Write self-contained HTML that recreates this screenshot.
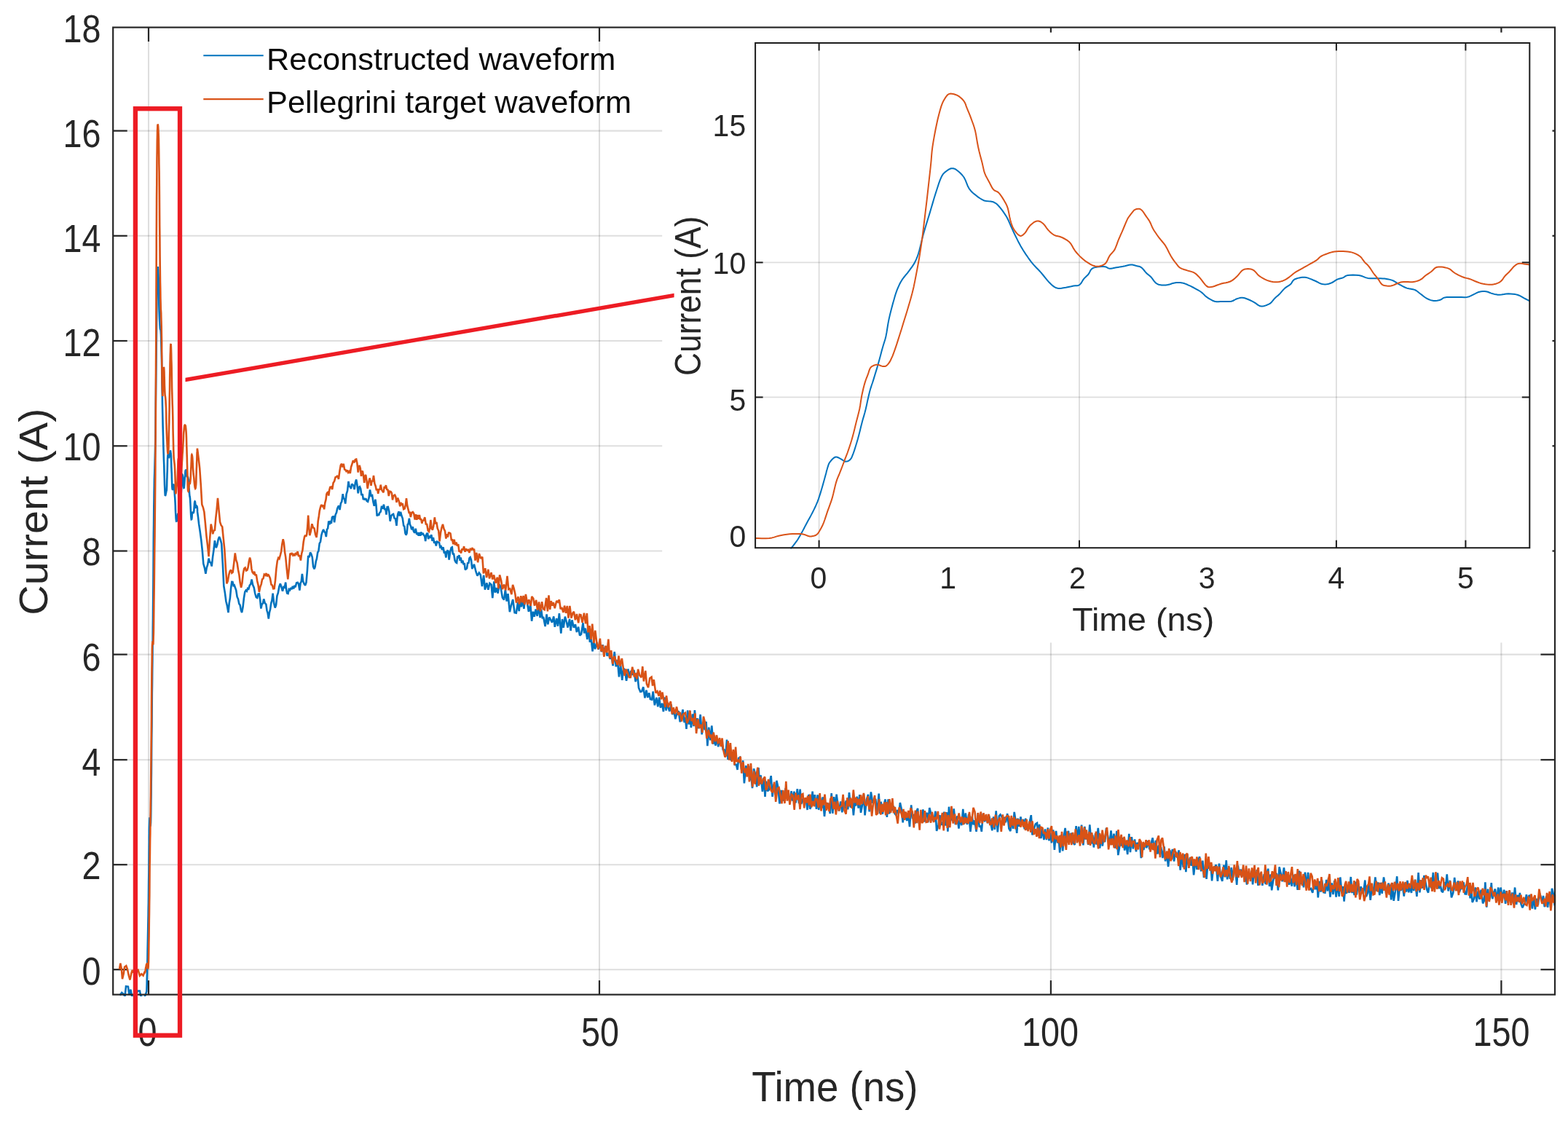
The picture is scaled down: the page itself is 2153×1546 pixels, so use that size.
<!DOCTYPE html>
<html lang="en"><head><meta charset="utf-8"><title>Current waveform</title>
<style>html,body{margin:0;padding:0;background:#fff;width:2153px;height:1546px}svg{display:block;filter:blur(0.45px)}</style></head>
<body>
<svg width="2153" height="1546" viewBox="0 0 2153 1546" role="img" aria-label="Current waveform chart">
<defs>
<clipPath id="cm"><rect x="155.2" y="37.6" width="1981.0" height="1330.5"/></clipPath>
<clipPath id="ci"><rect x="1037.1" y="59.0" width="1063.2000000000003" height="694.7"/></clipPath>
<filter id="bl" x="-2%" y="-2%" width="104%" height="104%"><feGaussianBlur stdDeviation="0.7"/></filter>
</defs>
<rect width="2153" height="1546" fill="#ffffff"/>
<g stroke="#000" stroke-opacity="0.13" stroke-width="2.1" fill="none">
<line x1="155.2" y1="1331.2" x2="2135.0" y2="1331.2"/>
<line x1="155.2" y1="1187.2" x2="2135.0" y2="1187.2"/>
<line x1="155.2" y1="1043.2" x2="2135.0" y2="1043.2"/>
<line x1="155.2" y1="898.6" x2="2135.0" y2="898.6"/>
<line x1="155.2" y1="756.5" x2="2135.0" y2="756.5"/>
<line x1="155.2" y1="612.3" x2="2135.0" y2="612.3"/>
<line x1="155.2" y1="468.0" x2="2135.0" y2="468.0"/>
<line x1="155.2" y1="323.8" x2="2135.0" y2="323.8"/>
<line x1="155.2" y1="179.6" x2="2135.0" y2="179.6"/>
<line x1="204.0" y1="37.6" x2="204.0" y2="1365.6"/>
<line x1="823.0" y1="37.6" x2="823.0" y2="1365.6"/>
<line x1="1442.9" y1="37.6" x2="1442.9" y2="1365.6"/>
<line x1="2061.4" y1="37.6" x2="2061.4" y2="1365.6"/>
</g>
<g stroke="#262626" stroke-width="2.2" fill="none">
<line x1="155.2" y1="1331.2" x2="174.7" y2="1331.2"/>
<line x1="2135.0" y1="1331.2" x2="2115.5" y2="1331.2"/>
<line x1="155.2" y1="1187.2" x2="174.7" y2="1187.2"/>
<line x1="2135.0" y1="1187.2" x2="2115.5" y2="1187.2"/>
<line x1="155.2" y1="1043.2" x2="174.7" y2="1043.2"/>
<line x1="2135.0" y1="1043.2" x2="2115.5" y2="1043.2"/>
<line x1="155.2" y1="898.6" x2="174.7" y2="898.6"/>
<line x1="2135.0" y1="898.6" x2="2115.5" y2="898.6"/>
<line x1="155.2" y1="756.5" x2="174.7" y2="756.5"/>
<line x1="2135.0" y1="756.5" x2="2115.5" y2="756.5"/>
<line x1="155.2" y1="612.3" x2="174.7" y2="612.3"/>
<line x1="2135.0" y1="612.3" x2="2115.5" y2="612.3"/>
<line x1="155.2" y1="468.0" x2="174.7" y2="468.0"/>
<line x1="2135.0" y1="468.0" x2="2115.5" y2="468.0"/>
<line x1="155.2" y1="323.8" x2="174.7" y2="323.8"/>
<line x1="2135.0" y1="323.8" x2="2115.5" y2="323.8"/>
<line x1="155.2" y1="179.6" x2="174.7" y2="179.6"/>
<line x1="2135.0" y1="179.6" x2="2115.5" y2="179.6"/>
<line x1="204.0" y1="1365.6" x2="204.0" y2="1346.1"/>
<line x1="204.0" y1="37.6" x2="204.0" y2="57.1"/>
<line x1="823.0" y1="1365.6" x2="823.0" y2="1346.1"/>
<line x1="823.0" y1="37.6" x2="823.0" y2="57.1"/>
<line x1="1442.9" y1="1365.6" x2="1442.9" y2="1346.1"/>
<line x1="1442.9" y1="37.6" x2="1442.9" y2="57.1"/>
<line x1="2061.4" y1="1365.6" x2="2061.4" y2="1346.1"/>
<line x1="2061.4" y1="37.6" x2="2061.4" y2="57.1"/>
</g>
<g clip-path="url(#cm)"><g filter="url(#bl)" fill="none" stroke-width="2.6" stroke-linejoin="miter" stroke-miterlimit="2" stroke-linecap="butt">
<path stroke="#0072BD" d="M164.6 1366.5L167.2 1362.8L169.8 1365.0L171.5 1368.0L173.0 1354.3L175.9 1354.6L177.4 1366.0L179.4 1358.7L180.9 1367.0L184.0 1369.0L187.0 1364.0L189.6 1360.5L191.9 1360.5L193.1 1367.0L196.0 1370.0L199.0 1368.0L201.3 1361.3L201.5 1356.7L201.7 1350.0L201.8 1343.0L202.0 1336.7L202.1 1330.1L202.3 1322.8L202.5 1314.6L202.6 1305.7L202.8 1296.3L203.0 1286.3L203.2 1275.8L203.4 1265.8L203.6 1256.8L203.7 1248.2L203.9 1239.3L204.0 1229.6L204.1 1219.5L204.2 1208.7L204.4 1196.4L204.5 1183.4L204.6 1171.9L204.7 1163.1L204.8 1155.9L204.8 1149.6L204.9 1144.2L204.9 1139.7L205.0 1135.3L205.2 1130.2L205.4 1125.3L205.6 1122.3L205.7 1122.6L205.9 1124.8L206.1 1127.3L206.2 1129.9L206.4 1132.7L206.5 1134.2L206.7 1133.8L206.8 1132.1L207.0 1129.2L207.1 1125.5L207.2 1120.5L207.3 1113.0L207.4 1101.8L207.6 1088.2L207.7 1074.3L207.9 1060.7L208.0 1046.8L208.1 1033.4L208.2 1021.2L208.3 1009.5L208.5 996.8L208.6 982.0L208.7 966.3L208.8 952.0L209.0 940.5L209.1 930.4L209.2 919.4L209.4 906.6L209.5 892.9L209.7 878.7L209.8 863.5L210.0 847.8L210.1 833.9L210.2 823.8L210.3 815.5L210.4 805.5L210.5 792.1L210.6 777.0L210.7 762.0L210.8 747.5L210.9 733.0L211.1 719.5L211.2 707.0L211.3 695.4L211.5 684.7L211.6 675.2L211.8 666.6L211.9 658.2L212.2 650.1L212.4 642.3L212.6 634.4L212.8 626.6L213.0 618.8L213.2 610.4L213.4 601.5L213.5 592.1L213.6 581.2L213.7 568.4L213.8 554.1L214.0 538.6L214.2 521.7L214.4 503.5L214.6 485.4L214.8 467.4L215.0 449.5L215.2 432.4L215.4 415.7L215.5 399.8L215.7 387.2L215.9 379.3L216.1 374.6L216.3 371.2L216.5 368.4L216.6 366.9L216.8 366.4L216.9 366.8L217.0 368.2L217.2 371.2L217.4 376.0L217.7 382.3L217.9 389.8L218.0 399.2L218.2 409.7L218.4 419.0L218.6 426.2L218.8 432.1L219.0 437.5L219.3 442.8L219.6 447.4L219.8 450.9L220.1 452.3L220.4 452.5L220.6 453.6L220.8 455.8L221.0 459.0L221.2 464.2L221.4 472.4L221.7 482.6L222.0 493.4L222.2 504.2L222.3 515.7L222.5 528.0L222.8 541.6L223.0 556.2L223.3 570.5L223.6 584.4L224.0 598.0L224.3 610.4L224.6 621.0L224.9 630.5L225.3 639.5L225.5 648.7L225.8 657.5L226.0 665.1L226.3 671.2L226.5 676.1L226.7 679.4L226.9 680.7L227.2 680.3L227.4 679.4L227.7 678.0L228.1 676.0L228.4 674.3L228.6 673.6L228.8 673.3L228.9 671.4L229.1 666.8L229.2 660.7L229.4 655.2L229.5 651.1L229.7 647.4L229.8 643.5L229.9 638.7L230.0 633.5L230.1 629.4L230.3 626.9L230.4 625.5L230.6 624.5L230.9 623.8L231.2 623.5L231.4 623.9L231.6 625.4L231.7 627.6L231.8 628.9L232.0 628.5L232.2 627.2L232.5 626.0L232.7 625.1L232.9 624.2L233.1 623.1L233.4 621.5L233.6 619.7L233.9 618.7L234.1 619.1L234.2 620.3L234.4 621.6L234.5 622.6L234.7 623.7L234.9 626.0L235.0 630.3L235.2 635.7L235.3 640.7L235.5 644.2L235.6 647.3L235.8 650.8L235.9 655.7L236.1 661.1L236.2 665.5L236.3 668.3L236.5 670.2L236.6 671.4L236.9 672.0L237.1 672.0L237.4 671.4L237.6 669.9L237.8 667.8L238.0 666.2L238.3 665.6L238.5 665.6L238.8 666.2L239.0 667.9L239.2 670.3L239.4 672.7L239.6 675.0L239.8 677.3L239.9 680.0L240.2 683.1L240.4 686.5L240.6 690.3L240.8 694.5L240.9 699.1L241.1 703.4L241.4 707.7L241.6 711.7L241.9 714.5L242.1 715.5L242.4 715.4L242.6 715.1L242.9 715.2L243.2 715.2L243.5 714.5L243.7 712.6L243.8 710.0L244.0 707.8L244.2 706.3L244.4 705.2L244.5 705.0L244.7 705.7L244.9 707.3L245.1 709.4L245.3 712.0L245.5 715.1L245.7 718.1L245.9 721.1L246.0 723.9L246.1 726.0L246.3 727.1L246.4 727.5L246.6 726.9L246.8 725.3L247.0 722.7L247.2 719.5L247.4 715.4L247.5 710.7L247.6 706.3L247.8 702.9L247.9 699.9L248.1 696.2L248.2 691.0L248.4 685.2L248.6 680.0L248.8 676.2L249.0 673.1L249.1 669.9L249.3 665.9L249.3 661.7L249.5 658.2L249.6 655.8L249.8 654.1L250.0 652.9L250.2 652.0L250.4 651.6L250.5 651.7L250.7 652.4L250.8 653.6L251.0 655.2L251.2 657.4L251.4 660.1L251.6 662.6L251.8 664.8L251.9 666.8L252.0 668.3L252.2 669.4L252.4 670.0L252.6 669.9L252.8 669.0L252.9 667.5L253.1 665.5L253.3 662.7L253.5 659.5L253.7 656.7L253.8 655.0L254.0 653.7L254.2 652.3L254.3 650.2L254.4 648.0L254.6 646.4L254.9 645.7L255.3 645.6L255.7 646.4L256.0 648.6L256.3 651.6L256.5 653.8L256.8 654.5L257.1 654.5L257.4 654.4L257.7 654.5L257.9 654.7L258.1 655.2L258.4 656.2L258.6 657.5L258.9 659.6L259.1 662.6L259.3 666.2L259.5 669.9L259.8 673.5L260.0 677.0L260.3 680.0L260.5 681.6L260.8 682.7L261.0 684.4L261.2 687.3L261.4 690.8L261.6 694.7L261.8 698.9L262.0 703.5L262.2 707.3L262.4 710.0L262.6 712.1L262.8 713.2L263.1 713.1L263.3 712.1L263.5 710.7L263.6 708.7L263.7 706.2L263.9 704.4L264.2 703.6L264.5 703.5L264.9 703.4L265.3 703.6L265.7 703.9L266.0 703.4L266.3 701.5L266.5 698.8L266.7 696.2L266.9 693.8L267.0 691.4L267.2 689.7L267.4 688.8L267.6 688.5L267.9 688.9L268.1 690.5L268.3 692.7L268.5 694.7L268.7 696.0L268.9 697.1L269.2 697.5L269.4 696.8L269.7 695.4L270.0 694.7L270.3 695.0L270.6 695.9L270.9 697.5L271.1 702.9L272.1 710.7L273.1 719.4L274.6 729.1L276.2 740.8L277.8 755.9L279.3 774.0L280.9 779.6L282.4 787.7L283.8 779.3L285.2 775.3L286.6 766.6L288.0 771.6L289.3 772.5L290.7 777.5L292.1 764.8L293.5 754.9L294.9 742.1L295.9 748.7L296.9 752.1L298.3 748.0L299.7 740.5L301.1 737.1L302.6 740.7L304.2 746.5L305.8 773.7L307.3 804.5L308.9 814.1L310.4 825.7L311.9 831.7L313.5 841.1L314.7 828.3L315.9 821.1L317.1 807.7L318.3 798.8L319.4 798.9L320.6 804.0L321.7 803.4L322.8 806.5L324.2 810.4L325.6 819.4L327.0 822.6L328.3 829.0L329.6 830.8L330.8 837.5L332.1 841.0L333.5 833.8L334.9 821.3L336.3 812.6L337.6 810.5L338.9 811.7L340.1 807.9L341.4 808.6L342.8 803.7L344.2 802.2L345.6 795.5L347.1 803.0L348.7 806.6L350.2 814.8L351.8 820.2L353.2 820.9L354.5 815.5L355.9 815.1L357.1 822.8L358.4 835.6L359.7 829.5L360.9 828.5L362.2 822.4L363.8 828.3L365.3 829.6L366.5 838.3L367.6 841.6L368.8 849.6L370.0 840.7L371.1 836.6L372.3 828.1L373.4 824.4L374.6 814.7L376.1 827.9L377.7 834.5L379.1 830.7L380.4 818.3L381.8 814.2L383.4 805.3L384.9 801.3L386.4 805.8L388.0 811.7L389.4 805.9L390.8 806.6L392.2 799.6L393.2 810.0L394.2 814.5L395.5 815.0L396.8 809.1L398.1 810.1L399.4 807.0L400.6 809.2L401.9 804.8L403.1 808.3L404.4 804.0L405.6 806.3L407.1 800.3L408.7 799.8L410.0 801.8L411.4 810.6L412.6 800.5L413.7 798.6L414.9 788.0L416.2 798.2L417.6 801.5L419.1 803.7L420.5 799.7L421.9 783.7L423.2 763.0L424.6 765.3L426.0 758.5L427.4 760.9L428.8 765.2L430.1 777.9L431.5 781.3L432.6 778.4L433.8 770.7L434.9 767.2L436.2 758.5L437.4 756.6L438.7 746.2L440.0 743.8L441.3 735.0L442.6 730.5L444.1 727.1L445.5 730.2L446.6 731.3L447.8 737.0L449.0 726.6L450.1 725.6L451.3 715.5L452.5 720.3L453.6 715.1L454.8 718.9L456.0 710.2L457.2 709.3L458.1 709.2L459.1 717.2L460.6 706.8L462.0 703.8L463.2 698.2L464.5 695.3L465.5 694.4L466.5 700.0L467.9 691.2L469.3 688.5L470.7 678.2L471.9 684.4L473.0 685.0L474.2 691.5L475.6 678.6L477.1 673.6L478.5 660.9L479.6 667.7L480.8 668.2L482.0 671.0L483.1 664.4L484.3 665.6L485.5 666.8L486.6 672.1L487.9 662.5L489.2 658.4L490.4 665.7L491.7 677.4L492.9 669.0L494.0 668.2L495.2 671.0L496.4 680.1L497.7 678.2L498.9 686.0L500.0 684.0L501.1 686.4L502.2 684.1L503.6 687.8L505.1 688.7L506.6 683.4L508.0 672.5L509.6 680.8L511.1 680.1L512.5 689.3L513.8 694.8L515.4 685.7L516.5 693.6L517.7 708.6L518.9 705.4L520.0 707.9L521.2 704.2L522.7 702.7L524.1 694.7L525.5 698.5L527.0 692.7L528.2 700.1L529.3 698.1L530.5 706.5L531.6 696.1L532.8 696.0L534.2 701.7L535.7 715.7L537.2 708.1L538.6 706.5L540.1 705.8L541.6 711.6L543.0 712.1L544.5 721.9L545.5 710.4L546.4 705.3L547.6 702.2L548.8 708.4L550.1 702.9L551.3 707.7L552.8 711.7L554.2 721.7L555.3 722.5L556.4 732.0L557.5 734.6L558.6 732.2L559.7 720.3L560.8 718.7L561.9 711.6L562.9 720.1L563.9 722.2L565.3 727.2L566.8 723.1L567.8 729.1L568.7 730.6L569.7 731.5L570.7 725.8L572.2 733.7L573.6 732.4L574.8 735.6L575.9 731.1L577.1 735.7L578.2 730.6L579.4 733.5L580.8 732.7L582.3 735.2L583.2 736.3L584.2 743.0L585.2 734.3L586.2 732.6L587.2 732.6L588.1 740.1L589.5 735.7L591.0 738.8L592.3 734.1L593.6 742.7L594.9 738.0L596.2 745.8L597.5 743.2L598.8 749.5L600.2 743.7L601.7 744.5L603.0 744.9L604.3 751.3L605.6 750.3L607.0 755.0L608.5 751.3L609.8 758.5L611.1 758.1L612.4 765.5L613.3 757.8L614.3 756.1L615.5 756.7L616.6 768.6L618.2 757.4L619.7 751.9L620.8 751.3L621.9 761.4L623.0 759.8L624.5 769.3L625.9 772.2L627.1 772.9L628.2 763.7L629.4 764.9L630.5 762.2L631.6 769.8L632.7 765.4L634.0 773.1L635.3 769.6L636.6 775.3L637.7 773.1L638.8 782.4L639.9 781.3L641.1 780.4L642.2 772.4L643.4 773.6L644.5 766.3L645.7 765.1L647.0 768.9L648.3 781.0L650.0 777.2L651.0 774.7L653.5 785.0L655.5 790.6L657.8 786.4L659.8 789.3L662.0 805.1L664.2 789.8L665.9 809.7L668.3 800.3L670.4 809.6L672.4 800.8L674.6 802.6L676.3 821.2L678.3 798.3L679.9 813.7L681.7 807.0L683.7 814.6L685.6 802.2L687.5 806.1L689.9 820.4L692.0 823.5L693.9 809.7L695.7 825.5L697.5 815.1L699.9 840.2L701.9 831.3L704.2 823.0L706.6 841.1L708.8 841.6L711.1 826.7L712.7 839.2L714.3 822.2L715.9 833.3L717.7 820.5L719.4 835.8L721.3 820.1L723.7 826.4L725.9 839.9L728.3 829.7L730.1 852.7L732.0 839.7L733.7 846.7L735.6 836.5L737.7 845.9L739.7 832.1L741.6 848.2L743.1 836.6L744.7 848.2L746.3 847.9L748.6 860.1L750.6 843.5L752.3 857.3L754.2 847.5L756.4 851.4L758.0 854.7L760.3 846.3L761.8 860.8L764.2 849.0L766.0 859.7L767.9 842.1L770.3 869.7L772.1 850.0L773.7 861.8L775.9 846.6L777.9 854.0L779.6 861.6L782.1 849.9L783.6 866.0L785.5 851.3L787.9 861.8L790.0 857.3L791.9 868.0L794.1 860.6L796.1 872.6L798.1 870.6L800.5 855.3L802.2 869.4L803.9 862.6L806.4 877.9L808.4 862.4L809.9 881.6L811.5 875.4L813.6 894.4L815.2 880.8L817.1 891.2L819.4 881.9L821.8 891.8L823.7 883.7L826.1 895.1L827.7 885.1L829.4 895.7L831.9 887.2L833.6 900.5L835.9 896.7L837.8 904.9L839.5 899.4L841.6 914.1L843.7 894.9L845.8 915.3L847.8 905.9L850.0 929.3L852.1 912.7L854.3 933.8L856.0 917.8L857.9 919.5L860.1 934.9L862.4 918.6L864.5 930.4L866.3 920.9L867.9 926.7L870.4 919.9L872.7 936.0L875.0 923.8L877.0 944.4L879.3 949.7L881.2 949.3L883.3 943.3L885.5 958.3L887.6 947.6L889.3 957.7L891.4 951.5L892.9 960.0L895.1 960.6L896.7 949.5L898.9 968.3L901.4 957.7L903.3 970.4L905.2 957.5L906.9 971.7L909.2 965.8L910.9 977.0L912.9 957.4L914.6 975.6L916.1 964.3L917.6 971.5L919.3 976.6L921.6 967.1L923.3 981.2L925.2 975.1L927.4 987.2L929.4 979.7L931.7 976.2L933.8 991.2L935.7 984.5L937.5 974.1L939.7 992.1L941.0 984.9L942.5 1000.9L944.2 975.4L945.9 994.7L947.4 976.1L948.9 999.0L951.0 980.3L952.5 997.2L953.9 975.0L955.8 997.4L957.5 986.3L959.5 1000.3L961.7 981.0L963.7 1008.3L965.8 991.3L967.7 1002.3L969.6 990.7L971.4 1024.2L973.3 998.7L975.3 1016.4L977.3 996.3L979.4 1021.7L980.8 1009.7L982.4 1023.6L984.7 1013.6L986.2 1025.4L987.7 1016.4L989.2 1022.0L990.7 1017.0L992.7 1029.0L994.2 1029.2L996.5 1037.3L998.0 1015.7L999.6 1043.0L1001.9 1028.8L1003.7 1044.0L1005.4 1041.5L1007.4 1031.4L1009.0 1049.9L1011.0 1049.9L1012.6 1056.9L1014.2 1040.9L1015.8 1039.9L1018.1 1056.6L1020.2 1044.2L1021.9 1075.4L1024.3 1051.1L1026.2 1063.3L1028.1 1051.5L1029.7 1071.2L1031.5 1066.2L1033.0 1082.1L1035.0 1055.4L1037.1 1062.7L1039.2 1080.3L1041.5 1054.2L1043.0 1076.7L1044.6 1064.3L1046.9 1086.8L1048.9 1068.1L1050.5 1093.8L1052.0 1072.6L1053.7 1086.2L1055.7 1084.5L1057.1 1073.0L1058.7 1065.2L1060.6 1093.8L1062.6 1076.6L1064.7 1090.6L1066.4 1071.8L1068.4 1081.2L1070.4 1103.5L1072.6 1084.9L1074.2 1096.8L1076.4 1099.2L1078.6 1082.2L1080.6 1096.9L1082.5 1091.3L1084.5 1101.4L1086.6 1086.1L1088.3 1099.5L1090.4 1086.6L1092.6 1102.3L1094.8 1083.1L1097.0 1103.1L1098.6 1083.7L1100.2 1103.9L1102.3 1096.5L1104.6 1102.5L1106.4 1095.2L1108.6 1112.0L1110.5 1090.9L1112.3 1110.8L1114.1 1106.1L1115.6 1086.7L1117.4 1106.1L1118.8 1091.2L1121.0 1110.9L1122.6 1091.4L1124.2 1112.0L1126.1 1095.2L1128.1 1109.8L1129.7 1094.4L1132.0 1121.0L1133.9 1101.7L1135.4 1109.8L1137.8 1102.9L1139.7 1117.2L1141.7 1089.0L1143.3 1116.8L1145.2 1094.2L1147.1 1112.1L1148.6 1090.6L1150.3 1103.3L1152.0 1113.6L1154.3 1100.4L1156.3 1115.4L1158.2 1101.2L1159.7 1110.2L1161.8 1099.3L1164.2 1111.3L1166.0 1088.1L1168.1 1108.8L1170.1 1096.9L1171.9 1119.3L1173.6 1100.4L1175.0 1106.5L1176.7 1093.7L1178.7 1109.6L1180.3 1091.1L1182.0 1115.8L1184.3 1103.9L1186.0 1090.4L1187.6 1119.4L1189.8 1097.7L1192.1 1090.8L1193.7 1114.4L1195.9 1087.4L1198.1 1101.1L1200.3 1099.6L1202.3 1096.9L1204.5 1116.8L1206.7 1089.5L1208.2 1117.1L1209.6 1100.8L1211.9 1117.7L1213.6 1104.4L1215.7 1097.5L1217.9 1121.9L1219.6 1097.3L1221.3 1117.3L1222.9 1102.7L1225.0 1113.0L1226.9 1106.6L1228.7 1117.1L1230.8 1119.8L1232.4 1112.1L1234.4 1116.3L1235.9 1102.1L1237.6 1110.0L1239.7 1129.3L1241.4 1114.1L1243.7 1122.3L1245.3 1126.9L1247.2 1117.3L1249.0 1135.1L1251.2 1105.4L1253.0 1124.1L1254.5 1117.9L1256.5 1130.7L1258.0 1115.9L1260.1 1109.9L1261.8 1130.3L1263.6 1120.7L1265.7 1127.6L1267.4 1111.5L1269.5 1128.4L1271.0 1120.7L1272.8 1115.8L1274.3 1129.2L1276.3 1109.1L1278.3 1117.0L1280.2 1125.2L1282.5 1126.7L1284.5 1113.8L1286.1 1140.9L1288.4 1133.0L1290.4 1119.1L1292.6 1132.7L1294.5 1130.8L1296.4 1114.6L1298.4 1133.7L1300.0 1115.2L1301.4 1141.7L1303.0 1107.7L1305.0 1127.4L1306.6 1116.9L1308.1 1127.3L1309.7 1110.4L1311.9 1132.0L1314.3 1120.4L1316.5 1137.5L1318.3 1123.1L1320.4 1133.2L1322.3 1110.9L1323.8 1131.5L1325.8 1116.5L1328.0 1132.1L1330.3 1117.8L1332.5 1141.8L1334.8 1120.8L1336.5 1132.3L1338.3 1126.5L1340.6 1141.8L1342.9 1116.0L1344.7 1135.4L1346.4 1133.8L1347.8 1141.9L1349.8 1116.9L1352.1 1128.3L1353.9 1121.2L1356.2 1130.3L1357.6 1118.4L1359.9 1127.4L1362.3 1140.3L1364.2 1121.4L1365.8 1139.0L1367.7 1113.4L1369.8 1142.4L1371.9 1120.3L1373.6 1118.4L1375.6 1121.7L1377.9 1130.1L1379.4 1121.8L1380.9 1129.2L1383.2 1117.1L1385.4 1137.7L1387.4 1141.2L1389.4 1123.2L1391.1 1137.9L1392.7 1114.9L1394.3 1125.4L1396.2 1143.9L1397.6 1123.6L1399.5 1134.8L1401.5 1121.5L1403.1 1132.7L1405.1 1124.9L1406.7 1138.3L1408.2 1123.6L1409.8 1137.9L1411.7 1139.8L1413.6 1129.3L1415.8 1119.2L1417.5 1146.4L1419.6 1138.3L1421.9 1131.4L1424.0 1130.0L1425.5 1147.6L1427.2 1131.8L1429.4 1151.1L1431.2 1137.5L1433.4 1153.0L1435.1 1138.4L1437.0 1153.1L1438.9 1136.5L1440.5 1154.3L1442.3 1143.3L1443.9 1157.3L1446.1 1139.4L1447.9 1166.8L1450.1 1140.8L1451.9 1157.4L1453.6 1148.8L1455.2 1170.6L1457.3 1146.0L1459.2 1168.3L1460.9 1147.4L1462.6 1137.0L1464.7 1156.7L1467.0 1140.8L1469.0 1156.1L1471.2 1143.6L1473.4 1157.0L1475.7 1159.9L1477.6 1134.1L1479.7 1155.4L1481.2 1134.8L1483.4 1155.9L1485.1 1132.7L1487.4 1160.4L1489.4 1134.9L1490.9 1152.6L1492.5 1144.9L1494.3 1159.9L1496.3 1132.3L1498.5 1158.6L1500.3 1146.6L1501.8 1163.5L1504.1 1144.2L1505.6 1159.7L1507.8 1136.9L1510.1 1164.5L1512.3 1146.3L1513.8 1161.6L1515.6 1148.8L1517.1 1156.1L1519.0 1136.8L1521.3 1148.8L1523.4 1160.1L1525.5 1140.5L1527.4 1159.9L1529.5 1144.7L1531.2 1164.6L1533.4 1140.9L1535.3 1174.1L1537.0 1164.1L1538.4 1148.7L1540.6 1161.7L1542.3 1150.2L1544.2 1167.5L1546.1 1156.6L1548.2 1173.1L1550.3 1144.9L1552.0 1170.2L1553.9 1149.2L1555.8 1165.4L1558.1 1152.4L1560.0 1169.3L1561.5 1156.9L1563.8 1161.5L1565.3 1156.7L1566.8 1178.1L1568.3 1158.7L1570.3 1166.9L1572.2 1157.9L1574.3 1164.2L1576.5 1154.2L1578.4 1166.3L1580.5 1158.1L1582.7 1150.4L1585.0 1167.2L1587.0 1153.9L1589.3 1172.5L1591.0 1160.4L1592.4 1173.1L1594.2 1163.3L1596.4 1178.1L1598.6 1162.4L1600.1 1182.5L1602.1 1170.8L1604.1 1190.0L1606.3 1167.2L1608.2 1178.8L1609.9 1166.0L1612.1 1182.6L1614.1 1168.8L1616.4 1177.8L1618.6 1167.4L1620.7 1194.7L1622.5 1174.8L1624.8 1190.7L1626.7 1172.8L1628.4 1197.1L1630.1 1172.5L1632.5 1190.5L1634.2 1177.0L1635.6 1188.6L1637.5 1180.1L1639.1 1201.3L1641.4 1180.8L1643.6 1193.9L1645.1 1181.9L1647.1 1176.1L1649.2 1196.4L1651.4 1181.7L1653.0 1205.0L1655.1 1187.8L1656.6 1206.8L1658.7 1181.8L1660.2 1192.7L1662.4 1184.8L1664.1 1209.4L1666.0 1190.3L1667.5 1195.2L1669.7 1187.0L1671.9 1210.0L1674.0 1185.6L1676.2 1203.7L1678.3 1209.9L1680.5 1187.7L1682.1 1204.3L1683.8 1181.2L1685.2 1207.4L1686.8 1192.2L1688.9 1206.7L1690.8 1191.1L1692.7 1208.7L1694.4 1191.2L1696.7 1197.9L1698.2 1215.0L1699.9 1188.3L1701.6 1201.4L1703.5 1193.5L1705.1 1203.6L1707.3 1194.6L1709.0 1210.4L1710.4 1196.1L1712.0 1214.6L1714.3 1199.5L1716.4 1206.5L1718.7 1195.7L1720.1 1214.4L1722.2 1194.2L1724.1 1206.6L1725.9 1194.2L1727.5 1215.8L1729.7 1201.4L1731.2 1198.4L1733.4 1215.9L1735.7 1200.1L1737.8 1214.1L1739.6 1199.6L1741.2 1192.7L1743.1 1217.0L1744.7 1200.5L1746.2 1222.3L1747.9 1210.8L1749.5 1202.7L1751.0 1206.3L1752.8 1198.8L1754.9 1222.4L1756.6 1190.4L1758.8 1199.7L1760.6 1210.3L1762.9 1191.3L1764.7 1203.9L1766.2 1211.0L1768.3 1201.5L1770.1 1214.8L1771.6 1204.0L1773.8 1216.7L1775.4 1200.7L1777.6 1217.4L1779.7 1203.1L1781.7 1221.9L1784.0 1195.7L1786.2 1213.9L1788.4 1204.2L1790.0 1218.3L1792.0 1197.6L1794.3 1217.8L1796.1 1197.9L1797.7 1221.5L1800.0 1219.9L1802.3 1225.7L1804.5 1210.0L1806.5 1221.4L1808.2 1210.5L1809.8 1232.3L1811.7 1209.9L1813.5 1224.5L1815.1 1208.3L1817.3 1225.2L1819.4 1225.7L1821.2 1207.8L1822.8 1223.5L1824.2 1205.2L1826.5 1231.6L1828.6 1212.3L1830.5 1228.2L1832.3 1209.0L1834.6 1231.5L1837.0 1213.2L1838.7 1230.9L1840.3 1204.5L1842.4 1226.0L1844.1 1217.1L1845.6 1237.6L1847.3 1216.5L1848.7 1226.9L1850.5 1218.6L1852.6 1225.8L1854.8 1204.0L1856.5 1226.1L1858.0 1217.6L1859.6 1229.1L1861.3 1210.6L1862.8 1228.5L1865.0 1212.5L1866.9 1225.0L1868.6 1217.2L1870.1 1223.5L1872.0 1227.2L1874.3 1208.5L1875.9 1231.1L1877.8 1226.1L1879.6 1214.3L1881.7 1235.9L1883.8 1217.8L1886.0 1225.3L1888.4 1204.4L1890.5 1223.6L1892.1 1211.3L1894.3 1229.1L1896.3 1211.8L1897.7 1226.8L1900.0 1204.4L1901.7 1214.9L1903.2 1227.7L1904.9 1219.3L1906.5 1212.8L1908.1 1216.8L1910.3 1235.3L1911.8 1212.1L1913.7 1236.8L1915.9 1223.9L1918.2 1203.2L1920.0 1236.9L1922.0 1217.3L1923.5 1222.9L1925.5 1213.5L1927.8 1230.7L1929.6 1211.3L1931.1 1224.6L1932.5 1208.9L1934.3 1225.4L1935.7 1216.1L1938.0 1226.0L1939.5 1210.2L1941.3 1223.1L1943.0 1207.6L1945.4 1230.8L1947.6 1198.1L1949.4 1225.3L1951.5 1208.5L1953.6 1219.6L1955.4 1202.1L1956.9 1208.5L1959.3 1221.7L1961.1 1225.7L1963.4 1208.1L1965.7 1219.8L1967.9 1198.0L1969.8 1219.9L1972.0 1207.5L1974.0 1198.5L1975.7 1220.2L1977.5 1213.2L1979.3 1223.4L1981.1 1225.2L1983.1 1211.2L1984.6 1220.9L1986.8 1200.4L1988.6 1223.5L1990.8 1208.8L1993.0 1232.4L1995.3 1225.8L1997.2 1204.8L1998.9 1221.4L2000.5 1221.9L2002.0 1209.5L2003.8 1225.1L2005.9 1218.3L2007.5 1220.9L2009.6 1211.3L2011.6 1227.4L2013.3 1227.6L2015.0 1216.3L2016.7 1213.8L2018.7 1233.3L2020.3 1222.4L2021.7 1239.0L2024.0 1234.0L2025.8 1218.4L2027.5 1238.2L2029.7 1223.2L2031.5 1234.7L2033.7 1221.7L2036.1 1240.3L2037.8 1237.0L2039.4 1211.4L2041.3 1245.6L2043.0 1220.6L2044.6 1236.5L2046.2 1231.8L2047.8 1212.2L2049.3 1234.2L2051.3 1224.9L2053.0 1220.6L2055.1 1236.5L2057.3 1218.5L2059.0 1236.4L2060.6 1218.5L2063.0 1234.3L2065.2 1221.6L2067.1 1240.8L2068.5 1223.2L2070.5 1239.5L2072.8 1223.0L2074.9 1238.8L2076.5 1225.3L2077.9 1240.7L2080.1 1218.5L2082.1 1242.0L2083.8 1228.8L2085.3 1238.1L2086.9 1225.9L2088.5 1241.3L2090.5 1246.3L2092.7 1241.3L2094.2 1239.8L2095.9 1228.2L2097.5 1238.6L2099.7 1229.1L2101.6 1231.8L2103.9 1247.6L2105.9 1232.1L2107.9 1248.7L2109.9 1233.8L2111.8 1242.6L2113.8 1226.3L2115.2 1229.9L2117.5 1239.3L2119.0 1229.9L2120.8 1245.2L2123.2 1230.6L2125.1 1245.9L2127.0 1227.1L2129.1 1245.9L2131.0 1219.9L2132.8 1227.2L2134.8 1243.3L2136.4 1228.7L2138.4 1244.2L2140.0 1247.2"/>
<path stroke="#D95319" d="M164.0 1330.8L165.3 1322.6L166.9 1330.8L168.0 1344.1L169.8 1336.6L171.0 1327.8L173.3 1326.1L175.0 1330.8L176.8 1339.5L178.5 1345.3L180.3 1336.6L181.7 1331.9L183.2 1335.4L185.0 1330.0L186.5 1338.0L188.0 1333.0L189.6 1331.9L191.9 1339.5L194.3 1337.2L196.6 1339.5L198.3 1335.2L198.8 1335.5L199.2 1335.0L199.6 1333.4L199.8 1331.1L200.1 1328.9L200.5 1327.0L200.8 1325.2L201.2 1324.0L201.5 1323.4L201.9 1323.3L202.2 1323.6L202.4 1324.1L202.5 1325.0L202.7 1326.0L202.8 1327.5L202.9 1329.2L203.1 1330.1L203.3 1329.8L203.5 1328.8L203.7 1326.8L203.8 1323.7L204.0 1319.6L204.1 1314.6L204.2 1308.8L204.3 1302.1L204.4 1294.2L204.6 1284.9L204.7 1274.5L204.8 1263.7L205.0 1252.6L205.1 1241.1L205.3 1229.0L205.4 1215.3L205.5 1201.0L205.6 1188.3L205.8 1178.4L205.9 1170.1L206.0 1161.8L206.1 1153.2L206.3 1144.6L206.4 1135.3L206.5 1124.9L206.7 1113.8L206.8 1102.7L207.0 1092.2L207.1 1081.7L207.2 1070.3L207.3 1057.0L207.5 1042.7L207.6 1029.4L207.7 1018.1L207.8 1007.7L207.9 996.8L208.0 984.8L208.0 972.3L208.1 960.2L208.2 948.6L208.3 937.5L208.4 927.6L208.5 919.2L208.6 911.9L208.7 905.3L208.8 899.0L208.8 893.4L208.9 888.9L209.0 885.6L209.2 883.5L209.3 882.0L209.4 881.0L209.5 880.6L209.7 880.8L209.8 882.0L210.0 883.8L210.1 884.8L210.2 885.0L210.4 884.6L210.5 882.7L210.6 879.3L210.7 874.6L210.9 868.6L211.0 861.4L211.1 853.1L211.2 844.0L211.3 835.3L211.4 825.8L211.6 813.5L211.8 796.8L212.0 777.1L212.2 756.7L212.5 735.9L212.7 714.3L212.9 692.8L213.1 671.5L213.3 650.3L213.4 629.0L213.5 608.5L213.7 588.0L213.8 565.1L213.9 539.5L214.0 511.6L214.2 480.1L214.4 441.1L214.5 398.6L214.7 363.1L214.8 340.9L214.8 325.8L214.9 310.1L215.0 290.6L215.1 270.5L215.3 251.6L215.4 233.9L215.5 217.5L215.7 203.7L215.8 193.4L216.0 185.8L216.1 179.8L216.3 175.2L216.4 172.1L216.6 170.7L216.8 171.1L217.1 173.0L217.3 176.0L217.5 180.0L217.7 184.9L217.9 190.3L218.0 195.9L218.1 202.0L218.2 209.0L218.3 217.1L218.4 226.0L218.6 235.5L218.7 245.4L218.8 255.9L218.9 267.6L219.0 281.0L219.1 295.5L219.2 310.1L219.4 324.9L219.5 339.7L219.6 352.7L219.7 362.8L219.8 371.1L219.9 379.2L220.0 387.5L220.2 395.5L220.3 403.0L220.4 410.0L220.6 416.5L220.7 421.7L220.8 424.8L221.0 426.7L221.2 429.7L221.3 435.0L221.5 441.4L221.7 448.2L221.8 454.7L221.9 461.6L222.1 469.6L222.1 479.7L222.2 491.0L222.3 501.4L222.4 510.2L222.5 518.1L222.6 525.3L222.8 532.5L223.0 539.0L223.2 542.8L223.4 542.8L223.5 540.1L223.7 536.0L223.9 530.1L224.0 522.8L224.2 516.3L224.4 511.0L224.6 506.5L224.9 504.1L225.1 504.6L225.3 507.2L225.5 511.0L225.6 516.0L225.8 522.2L225.9 528.0L226.1 533.0L226.3 537.6L226.5 541.3L226.7 543.4L227.0 544.6L227.2 546.6L227.5 550.1L227.7 554.5L228.0 559.8L228.2 566.7L228.3 574.6L228.5 582.1L228.7 588.9L228.9 595.4L229.1 601.2L229.4 606.2L229.6 610.6L229.8 614.4L230.0 617.8L230.2 620.7L230.4 622.6L230.6 623.2L230.8 622.7L231.0 621.6L231.1 620.1L231.3 617.9L231.5 614.4L231.6 608.8L231.7 601.9L231.8 595.3L232.0 590.1L232.1 585.3L232.3 579.3L232.4 571.3L232.6 562.1L232.7 552.9L232.8 544.2L233.0 535.5L233.1 526.6L233.2 517.0L233.4 507.2L233.5 498.8L233.7 492.3L233.8 487.1L234.0 482.7L234.1 479.0L234.2 476.0L234.3 474.0L234.4 472.6L234.6 472.2L234.8 474.0L235.0 479.1L235.2 486.4L235.3 493.0L235.5 497.7L235.6 501.6L235.7 506.2L235.8 512.0L235.9 518.4L236.0 525.1L236.1 532.2L236.3 539.6L236.5 547.0L236.7 554.1L237.0 561.2L237.2 569.0L237.4 578.1L237.5 587.9L237.7 596.8L237.9 604.5L238.1 611.4L238.2 617.2L238.4 621.5L238.5 624.7L238.6 627.5L238.8 630.0L239.1 632.2L239.3 634.2L239.5 635.9L239.7 637.6L239.9 640.1L240.1 643.8L240.3 648.4L240.5 653.8L240.7 661.1L240.9 669.2L241.1 675.0L241.3 677.3L241.5 677.3L241.7 676.4L241.9 674.3L242.2 671.2L242.5 668.3L242.8 666.5L243.1 665.0L243.4 662.6L243.6 658.9L243.8 654.3L244.0 649.5L244.2 643.8L244.4 637.8L244.5 633.2L244.7 630.8L244.9 629.7L245.1 629.4L245.3 629.7L245.4 630.9L245.6 633.2L245.8 637.4L245.9 642.9L246.1 647.9L246.4 652.3L246.6 656.3L246.9 659.6L247.1 661.8L247.4 663.3L247.6 664.0L247.9 663.8L248.1 662.9L248.4 661.1L248.6 658.3L248.8 654.6L249.0 650.8L249.2 647.0L249.4 643.1L249.6 639.2L249.8 635.2L250.1 631.3L250.3 627.5L250.5 624.0L250.8 620.6L251.0 617.2L251.2 613.8L251.4 610.3L251.6 606.9L251.8 603.4L251.9 600.0L252.0 596.8L252.2 594.0L252.5 591.6L252.7 589.4L252.9 587.4L253.1 585.7L253.3 584.4L253.6 583.7L253.9 583.5L254.2 583.7L254.5 584.1L254.8 584.9L255.0 586.5L255.3 589.2L255.6 592.8L255.8 596.8L256.0 601.4L256.1 606.5L256.2 611.3L256.4 615.2L256.5 618.9L256.6 623.1L256.8 628.7L256.9 634.8L257.1 640.7L257.2 645.7L257.4 650.4L257.5 655.2L257.6 660.4L257.7 665.7L257.9 669.9L258.0 672.3L258.2 673.6L258.4 674.3L258.5 674.5L258.7 674.2L258.9 673.3L259.1 671.5L259.2 669.1L259.4 667.0L259.6 665.4L259.8 664.2L260.0 663.4L260.2 663.5L260.5 664.1L260.8 664.0L261.1 662.7L261.3 660.8L261.6 658.2L261.8 654.7L261.9 650.4L262.1 646.4L262.3 642.9L262.5 639.6L262.6 636.3L262.8 632.6L262.9 628.8L263.1 626.0L263.2 624.6L263.4 624.2L263.6 624.5L263.8 625.4L264.1 627.1L264.3 629.4L264.5 632.8L264.7 636.8L264.9 640.7L265.1 644.3L265.4 647.8L265.6 650.8L265.9 652.9L266.1 654.6L266.4 656.7L266.6 659.8L266.9 663.3L267.2 666.2L267.5 668.2L267.7 669.6L268.0 670.4L268.2 670.9L268.4 670.7L268.6 669.9L268.8 668.2L269.1 665.8L269.3 662.6L269.4 658.2L269.5 652.9L269.7 647.9L269.8 643.9L270.0 640.2L270.1 636.3L270.3 631.8L270.4 627.2L270.5 623.1L270.7 619.9L270.8 617.3L271.0 615.7L271.1 616.9L272.6 628.9L274.2 642.8L275.8 666.2L277.3 692.7L278.9 696.8L280.4 703.0L281.9 718.3L283.5 736.1L285.1 749.4L286.6 764.2L288.1 740.5L289.7 719.5L290.9 725.0L292.2 733.2L293.5 728.5L294.9 727.8L296.3 711.3L297.6 699.7L299.0 683.8L300.6 701.4L302.1 716.8L303.6 721.2L305.2 723.3L306.8 739.6L308.3 754.3L309.9 780.4L311.4 801.4L312.8 797.6L314.2 789.4L315.6 784.4L317.0 782.4L318.3 786.7L319.7 785.5L321.2 773.4L322.8 759.4L324.2 769.0L325.6 772.8L327.0 782.2L328.4 789.3L329.7 800.1L331.1 806.7L332.5 800.3L333.8 787.6L335.2 780.7L336.6 779.5L338.0 783.4L339.4 782.8L340.6 778.9L341.9 770.4L343.1 765.6L344.3 770.5L345.4 781.0L346.6 785.7L347.9 787.3L349.2 784.9L350.5 790.1L351.8 788.6L353.2 797.7L354.5 803.1L355.9 812.8L357.3 805.9L358.7 802.1L360.1 795.3L361.5 794.3L362.8 788.7L364.2 789.8L365.5 787.0L366.8 791.4L368.1 788.3L369.4 790.5L370.9 793.9L372.5 802.7L373.9 803.6L375.2 808.2L376.6 808.0L378.0 797.1L379.4 780.8L380.8 770.2L382.2 766.0L383.5 767.1L384.9 762.1L386.2 757.0L387.4 747.0L388.7 740.3L389.9 745.8L391.0 757.8L392.2 764.8L393.8 781.7L395.3 795.4L396.9 779.6L398.4 759.8L399.7 760.9L401.0 759.2L402.3 762.4L403.6 761.2L404.9 763.2L406.1 759.0L407.4 760.5L408.7 757.2L410.1 763.9L411.5 762.5L412.9 769.6L414.2 759.9L415.4 755.7L416.7 744.3L418.0 737.4L419.1 734.7L420.1 736.7L421.2 734.0L422.2 723.3L423.2 707.7L424.2 723.6L425.3 735.1L426.9 729.1L428.4 719.3L429.9 724.3L431.5 725.3L433.1 734.0L434.6 737.8L435.7 729.3L436.7 715.6L437.8 709.0L438.8 701.4L439.7 697.7L441.1 693.1L442.6 695.0L443.9 693.8L445.1 699.3L446.3 690.4L447.5 685.9L448.4 678.5L449.4 676.5L450.4 675.8L451.3 680.6L452.3 672.5L453.3 668.9L454.8 668.6L456.2 671.9L457.6 663.0L459.1 660.7L460.6 655.3L462.0 654.7L463.4 653.1L464.9 657.9L466.4 646.6L467.8 638.8L469.1 636.8L470.4 641.3L471.7 636.8L473.1 644.6L474.6 645.2L475.8 648.1L476.9 645.5L478.1 648.8L479.5 647.2L480.8 649.8L482.1 641.0L483.4 637.3L484.9 632.2L486.3 635.3L487.8 631.1L489.2 630.6L490.4 636.3L491.7 648.6L492.6 642.3L493.6 638.9L494.8 643.0L496.0 653.8L496.9 648.0L497.9 646.6L499.0 653.2L500.2 662.9L501.2 653.6L502.2 651.9L503.4 659.4L504.7 670.9L506.1 662.5L507.6 656.5L508.6 659.7L509.5 666.9L510.7 659.9L511.8 661.3L513.0 652.9L514.4 664.0L515.8 667.7L516.9 673.2L518.1 671.2L519.2 677.7L520.4 671.3L521.5 672.6L522.7 665.6L524.1 672.6L525.5 674.8L526.6 676.2L527.7 668.0L528.8 670.4L529.9 666.2L531.2 672.0L532.5 672.4L533.8 681.0L535.2 674.6L536.7 675.1L537.9 677.1L539.0 686.3L540.5 680.5L542.1 679.6L543.3 682.0L544.5 689.7L545.5 684.6L546.4 684.4L547.8 688.2L549.3 695.3L550.4 689.8L551.5 693.7L552.6 690.9L554.2 699.0L555.7 698.3L556.9 693.3L558.0 684.2L559.2 694.2L560.4 698.8L561.6 703.8L562.7 703.7L563.9 710.0L565.3 703.8L566.8 703.0L568.2 705.0L569.7 713.4L571.0 706.3L572.3 713.7L573.6 706.9L574.8 712.7L575.9 707.1L577.1 713.7L578.2 712.3L579.3 718.6L580.4 714.8L581.8 714.5L583.3 710.2L584.8 719.6L586.2 719.8L587.7 728.6L589.1 729.8L590.2 724.2L591.4 714.0L592.6 725.7L593.9 727.6L595.3 722.1L596.8 710.3L598.1 719.2L599.4 717.0L600.7 725.5L602.2 728.8L603.6 743.4L605.0 731.5L606.5 724.3L608.0 719.9L609.5 726.0L611.0 729.1L612.4 739.5L613.6 733.2L614.8 737.4L616.0 731.5L617.2 731.5L618.5 732.4L619.8 741.2L621.1 741.3L622.4 747.3L623.7 740.8L625.0 748.2L626.5 744.7L627.9 749.7L629.2 747.2L630.5 757.6L631.8 756.0L633.1 759.6L634.3 753.4L635.6 755.3L637.1 750.2L638.6 757.7L640.0 753.4L641.5 755.5L643.0 755.0L644.4 758.9L645.8 753.8L647.3 754.5L648.6 752.2L650.0 755.4L651.0 753.5L652.5 769.6L654.3 758.8L656.1 772.2L658.0 760.0L660.1 767.0L662.3 764.5L663.9 787.4L666.3 780.3L668.1 793.0L670.4 781.8L672.0 794.3L674.5 786.0L676.3 795.4L678.2 789.5L680.5 800.5L682.9 792.6L684.4 808.1L686.1 789.4L688.2 797.2L689.9 809.0L692.2 802.5L694.3 810.3L696.5 790.9L698.3 809.1L700.2 808.3L702.4 816.2L704.1 802.8L705.7 808.0L707.4 815.7L708.9 827.6L711.4 819.2L713.0 829.6L715.3 818.3L717.0 827.3L718.7 818.0L720.3 830.1L721.9 816.0L724.4 830.2L726.2 823.2L728.7 831.9L730.3 819.0L732.3 821.8L733.9 831.6L736.2 824.0L738.0 837.7L740.0 826.4L741.9 839.3L744.1 826.3L745.7 836.0L747.7 837.1L750.2 820.9L751.9 839.4L753.5 817.3L755.2 836.8L756.7 825.1L758.3 831.5L759.8 827.1L761.8 835.3L764.2 825.0L766.0 826.7L767.9 823.4L769.7 836.2L771.3 834.0L773.5 840.9L775.1 831.6L777.0 841.8L778.8 831.9L780.5 848.6L782.4 831.9L784.4 848.5L786.4 841.9L788.0 839.7L789.9 851.2L791.9 843.1L794.2 855.2L795.8 843.9L797.6 844.3L799.6 854.7L802.0 841.8L804.1 856.3L805.9 842.0L807.5 868.3L809.5 859.2L811.6 877.9L813.3 856.7L815.5 882.9L817.3 865.7L819.7 884.9L821.4 891.4L823.9 876.6L825.5 894.4L827.3 885.7L829.5 901.7L831.4 886.7L833.3 896.1L835.4 877.7L837.1 903.7L839.2 892.9L841.2 911.7L843.5 901.0L845.7 907.4L848.0 913.1L849.5 900.5L851.6 914.8L853.9 904.0L855.9 917.9L857.8 927.8L859.5 918.7L861.9 924.1L863.7 929.9L865.9 930.0L868.3 915.8L870.8 929.3L872.6 924.1L874.4 932.3L876.1 918.8L878.3 927.4L880.7 930.2L882.3 915.0L883.9 935.5L886.3 920.9L887.9 938.9L890.1 944.1L892.2 931.3L894.6 929.6L896.1 941.6L897.8 933.1L900.3 951.3L902.5 949.2L904.6 955.6L906.2 948.2L908.0 960.3L909.5 950.4L911.2 960.2L913.5 971.0L915.0 955.1L917.5 971.2L919.1 966.5L920.9 963.1L922.9 980.4L924.7 971.4L926.9 980.3L929.1 970.4L931.3 981.7L933.7 978.0L936.0 990.4L937.9 980.7L941.0 978.6L943.3 993.0L945.5 988.2L947.2 975.5L949.4 990.0L951.0 985.8L952.8 996.0L954.4 979.3L956.1 1007.0L958.3 987.3L960.4 999.8L962.7 994.8L964.3 1005.9L966.0 983.7L968.1 992.4L970.4 1013.9L972.8 1002.0L975.0 1012.6L976.5 1008.5L978.2 1021.4L979.7 1005.5L982.0 1018.3L984.1 1009.4L985.9 1021.2L988.1 1013.1L989.9 1025.0L991.6 1013.5L993.1 1029.2L995.5 1039.5L997.4 1037.0L999.7 1017.4L1001.3 1043.7L1002.9 1020.0L1005.0 1045.8L1006.9 1029.2L1008.5 1050.3L1010.1 1025.6L1011.5 1046.2L1013.3 1043.0L1015.2 1046.9L1016.7 1038.7L1018.3 1061.7L1020.4 1046.3L1022.4 1061.1L1024.0 1054.6L1025.6 1066.7L1027.3 1048.8L1028.9 1073.4L1031.0 1048.1L1033.2 1080.5L1035.2 1058.6L1036.6 1076.7L1038.9 1062.2L1040.4 1053.7L1041.9 1078.8L1044.1 1066.6L1045.9 1076.5L1047.9 1069.9L1050.2 1066.5L1051.7 1084.7L1053.3 1082.3L1055.1 1070.0L1057.0 1079.5L1058.9 1085.6L1061.1 1088.2L1063.2 1073.6L1065.2 1100.9L1067.5 1082.6L1069.6 1081.3L1071.5 1091.6L1073.5 1103.3L1075.3 1084.9L1077.5 1103.0L1079.3 1072.9L1080.8 1099.6L1082.6 1084.7L1084.4 1104.9L1086.8 1090.8L1088.9 1092.5L1090.7 1111.8L1092.5 1088.6L1094.3 1098.0L1096.6 1091.3L1098.5 1111.1L1100.6 1090.9L1102.4 1090.0L1104.2 1109.5L1105.8 1095.1L1107.7 1102.3L1109.1 1092.8L1111.0 1105.7L1112.4 1090.7L1114.3 1108.3L1116.3 1099.8L1118.1 1107.3L1119.6 1096.9L1121.7 1097.4L1123.9 1109.0L1125.7 1089.2L1127.5 1113.5L1129.2 1098.3L1130.8 1105.4L1132.5 1090.7L1134.7 1112.9L1136.1 1102.0L1138.5 1114.0L1140.2 1097.2L1142.2 1093.7L1144.5 1110.9L1146.2 1100.6L1147.8 1118.5L1150.0 1099.6L1151.9 1113.3L1153.8 1107.7L1155.9 1106.7L1157.6 1090.8L1159.5 1113.0L1161.6 1117.6L1163.4 1095.3L1165.6 1107.2L1167.8 1095.4L1169.9 1110.0L1171.8 1084.5L1173.6 1102.4L1175.6 1094.9L1177.2 1105.2L1178.7 1096.9L1180.6 1105.7L1182.1 1091.5L1183.7 1104.0L1185.9 1089.0L1187.6 1103.5L1189.7 1106.4L1191.5 1093.1L1193.5 1111.5L1195.4 1097.9L1197.1 1120.6L1199.4 1100.3L1201.1 1092.0L1203.0 1118.8L1205.1 1116.8L1207.1 1097.1L1209.4 1118.5L1211.0 1103.8L1212.5 1114.9L1214.5 1101.3L1216.2 1119.3L1217.6 1101.2L1219.4 1117.5L1221.4 1097.1L1223.1 1115.8L1225.4 1096.1L1227.0 1116.3L1228.9 1108.0L1230.6 1119.0L1232.7 1130.7L1234.6 1108.6L1236.7 1113.5L1239.0 1123.0L1240.5 1111.0L1242.0 1125.8L1243.5 1114.6L1245.3 1122.8L1247.4 1112.9L1248.9 1123.5L1250.4 1109.3L1252.8 1114.6L1254.8 1136.3L1256.8 1112.6L1258.6 1130.0L1260.4 1113.9L1262.7 1139.7L1264.4 1111.8L1266.1 1130.1L1268.1 1127.2L1269.9 1113.2L1271.7 1128.8L1273.8 1128.3L1276.1 1118.1L1278.1 1129.7L1279.9 1114.8L1282.0 1129.0L1283.4 1122.1L1285.7 1125.2L1287.9 1113.9L1289.9 1138.5L1291.9 1126.5L1294.0 1115.9L1295.7 1140.4L1297.6 1115.2L1299.1 1119.1L1300.8 1137.0L1302.2 1119.0L1304.3 1136.2L1306.5 1106.8L1308.7 1130.6L1311.0 1117.6L1312.8 1132.1L1314.5 1128.0L1316.7 1116.5L1318.9 1129.4L1320.8 1121.2L1322.8 1132.3L1324.6 1122.2L1326.1 1130.3L1327.8 1123.1L1329.4 1130.9L1331.0 1114.8L1332.5 1127.2L1334.3 1127.1L1336.5 1108.9L1338.5 1114.6L1340.8 1138.8L1342.9 1116.0L1345.3 1130.0L1346.7 1114.5L1348.8 1130.6L1350.5 1116.3L1352.1 1127.0L1354.1 1118.0L1355.9 1130.1L1357.6 1117.8L1359.2 1131.9L1360.8 1131.6L1362.6 1123.2L1364.7 1136.2L1367.0 1118.6L1368.7 1133.4L1370.9 1126.6L1373.0 1122.7L1374.8 1141.8L1376.8 1118.3L1378.5 1133.5L1380.6 1122.6L1382.9 1120.0L1385.2 1121.0L1387.3 1136.0L1388.8 1119.8L1390.6 1133.7L1392.6 1121.7L1394.2 1138.3L1396.0 1124.1L1397.5 1132.0L1399.3 1125.0L1401.6 1135.6L1403.6 1125.1L1405.2 1135.5L1406.7 1128.2L1408.1 1140.0L1409.6 1124.9L1411.6 1141.4L1413.7 1127.6L1415.3 1142.8L1417.5 1127.3L1419.6 1146.0L1421.7 1138.0L1423.4 1148.9L1425.1 1136.3L1427.0 1151.0L1429.1 1135.6L1431.4 1136.7L1433.1 1144.8L1434.9 1142.4L1436.9 1151.8L1438.8 1138.3L1440.4 1151.7L1442.1 1138.9L1443.9 1134.2L1445.4 1155.4L1447.1 1141.4L1449.3 1152.3L1451.3 1147.3L1453.0 1157.2L1454.9 1147.0L1456.5 1163.5L1458.0 1141.8L1460.0 1162.2L1461.7 1147.3L1463.9 1166.8L1465.4 1141.4L1467.7 1159.9L1469.5 1144.1L1471.3 1160.0L1473.1 1143.0L1475.3 1158.2L1476.8 1138.4L1479.0 1157.3L1481.3 1146.2L1483.0 1161.5L1485.0 1134.0L1486.5 1158.1L1488.8 1135.8L1490.4 1152.3L1491.8 1139.5L1494.1 1159.3L1495.6 1141.9L1497.1 1160.8L1499.1 1143.1L1501.2 1156.4L1503.4 1158.6L1504.9 1141.7L1506.5 1153.8L1508.1 1165.3L1510.0 1144.0L1512.0 1158.8L1513.6 1139.7L1516.0 1156.3L1518.3 1143.3L1520.0 1136.0L1522.1 1166.3L1524.3 1151.4L1526.1 1160.3L1527.7 1150.9L1529.8 1164.2L1531.6 1147.4L1533.7 1166.1L1535.5 1139.1L1537.5 1162.4L1539.6 1146.0L1541.8 1164.2L1543.5 1148.8L1545.8 1160.5L1547.5 1153.5L1549.6 1162.3L1551.7 1149.1L1553.4 1162.5L1555.5 1155.3L1557.4 1155.6L1559.5 1167.0L1561.1 1159.3L1562.9 1166.4L1564.6 1152.1L1566.6 1155.7L1568.1 1177.1L1569.6 1156.0L1572.0 1163.0L1573.6 1153.3L1575.9 1160.8L1577.8 1153.3L1579.6 1169.6L1581.2 1157.7L1583.1 1167.1L1584.7 1157.1L1586.4 1178.7L1588.7 1153.0L1590.9 1147.4L1592.9 1177.1L1594.4 1153.3L1596.1 1150.5L1598.3 1166.2L1599.9 1180.1L1602.1 1168.6L1603.7 1178.9L1605.2 1165.0L1607.3 1182.1L1609.0 1178.7L1610.6 1170.9L1612.9 1164.9L1614.6 1176.6L1616.4 1170.7L1618.3 1189.1L1620.4 1169.9L1622.1 1180.2L1624.2 1171.5L1626.0 1193.5L1628.4 1173.5L1630.2 1171.8L1632.4 1191.8L1634.5 1178.6L1636.9 1176.4L1638.3 1189.4L1640.0 1179.5L1641.8 1189.2L1643.4 1176.5L1645.8 1194.2L1647.9 1178.1L1649.9 1193.8L1652.2 1195.8L1654.1 1204.9L1655.8 1171.5L1657.5 1193.0L1659.5 1176.1L1661.5 1195.6L1663.2 1184.0L1665.0 1199.8L1667.0 1189.0L1668.6 1196.2L1670.6 1189.2L1672.2 1201.0L1674.1 1189.8L1675.8 1204.2L1677.5 1200.9L1679.7 1190.3L1681.5 1203.7L1683.5 1194.3L1685.2 1203.5L1687.3 1189.0L1689.4 1203.8L1691.3 1211.8L1693.2 1204.3L1694.8 1187.4L1697.1 1204.3L1698.9 1182.0L1700.5 1205.0L1702.8 1194.3L1705.0 1205.1L1707.2 1187.5L1708.7 1211.1L1711.1 1188.7L1713.2 1213.7L1714.8 1192.3L1717.0 1210.0L1719.1 1191.4L1720.6 1205.1L1722.6 1187.8L1724.2 1212.5L1726.3 1195.9L1727.8 1191.2L1729.4 1215.5L1731.8 1196.7L1733.5 1212.8L1735.8 1209.4L1737.3 1187.3L1739.4 1214.6L1741.0 1196.0L1742.9 1210.5L1744.9 1209.2L1746.9 1196.2L1748.7 1206.3L1751.0 1187.3L1752.6 1216.0L1754.2 1200.6L1756.1 1218.1L1757.9 1200.3L1759.7 1209.1L1761.7 1200.5L1763.8 1211.1L1765.6 1196.2L1767.2 1217.6L1768.7 1197.0L1770.8 1212.0L1772.3 1199.9L1774.0 1190.2L1775.6 1212.1L1777.1 1208.9L1778.5 1199.9L1780.1 1215.2L1781.8 1193.0L1784.1 1222.0L1785.9 1196.8L1788.0 1216.2L1789.7 1200.1L1791.8 1208.4L1793.8 1222.7L1795.7 1206.6L1797.4 1222.7L1799.7 1198.8L1801.7 1203.4L1803.4 1221.7L1805.2 1207.5L1807.4 1216.6L1809.2 1206.0L1811.3 1222.6L1812.8 1221.9L1814.4 1204.2L1815.9 1222.9L1818.0 1224.9L1819.4 1213.2L1821.5 1216.8L1823.3 1211.1L1825.5 1200.1L1827.3 1224.7L1829.5 1215.3L1831.5 1221.2L1833.3 1206.7L1835.4 1223.0L1837.4 1205.1L1839.1 1223.8L1841.1 1215.3L1842.9 1230.7L1844.9 1227.9L1846.7 1214.5L1848.2 1209.8L1850.0 1225.7L1852.1 1210.4L1854.2 1225.3L1855.8 1213.6L1857.5 1224.9L1859.4 1209.2L1861.4 1232.3L1863.6 1206.8L1865.2 1209.6L1867.2 1235.2L1869.1 1226.0L1871.0 1219.2L1873.2 1237.1L1875.1 1229.1L1877.2 1216.7L1879.0 1214.1L1880.5 1203.4L1881.9 1223.5L1883.8 1212.7L1885.6 1228.4L1887.5 1227.6L1889.7 1209.6L1891.9 1224.6L1894.1 1212.0L1896.4 1220.6L1898.0 1211.7L1900.2 1222.8L1901.8 1210.3L1903.8 1232.5L1906.0 1214.1L1907.6 1228.6L1909.2 1217.7L1911.1 1212.1L1913.1 1223.0L1915.1 1210.7L1916.9 1222.2L1919.1 1212.8L1921.0 1223.4L1922.5 1210.2L1923.9 1222.3L1926.3 1210.4L1928.6 1226.2L1930.1 1211.0L1932.4 1220.4L1934.6 1212.9L1936.6 1219.6L1938.9 1202.0L1940.8 1220.7L1943.1 1207.9L1944.7 1224.0L1946.5 1212.2L1948.5 1222.5L1950.0 1208.2L1951.6 1219.9L1953.8 1205.3L1955.6 1221.8L1957.8 1201.7L1959.4 1205.8L1960.8 1203.3L1963.1 1218.2L1964.7 1204.7L1966.5 1223.9L1968.3 1210.2L1969.9 1224.6L1971.4 1197.2L1973.2 1220.7L1975.5 1209.2L1977.7 1216.7L1979.9 1205.3L1981.9 1206.8L1983.4 1222.3L1985.3 1217.2L1987.6 1214.1L1989.4 1218.1L1991.3 1209.7L1993.0 1221.6L1994.5 1222.3L1996.8 1211.7L1999.1 1223.3L2000.9 1210.8L2002.9 1229.0L2004.6 1209.8L2006.4 1220.6L2007.9 1209.3L2009.9 1225.8L2011.5 1217.9L2013.6 1214.4L2015.3 1204.2L2017.0 1229.6L2018.5 1212.0L2020.4 1226.8L2022.5 1212.0L2024.4 1230.5L2025.9 1229.4L2027.7 1220.7L2029.5 1218.5L2031.8 1228.8L2033.9 1234.4L2035.8 1219.7L2037.3 1229.2L2039.3 1220.7L2040.9 1244.6L2042.5 1225.9L2044.9 1238.1L2046.4 1218.1L2048.5 1222.1L2050.8 1230.5L2052.5 1225.0L2054.4 1239.5L2056.7 1227.5L2058.4 1242.6L2060.7 1224.4L2062.3 1239.9L2063.9 1228.2L2065.6 1227.9L2067.5 1236.3L2069.1 1223.4L2071.0 1242.9L2072.6 1222.1L2074.7 1242.8L2076.8 1226.7L2079.0 1246.7L2080.9 1228.2L2082.5 1238.0L2084.6 1231.7L2086.3 1238.9L2088.4 1228.8L2090.1 1241.3L2092.3 1231.7L2094.2 1241.6L2096.5 1242.9L2098.8 1230.7L2100.7 1249.6L2102.5 1227.4L2104.1 1236.9L2106.1 1233.0L2107.5 1229.2L2109.3 1243.7L2111.3 1243.7L2113.4 1220.6L2115.4 1232.5L2117.4 1240.8L2119.3 1238.3L2120.8 1234.0L2122.3 1244.6L2124.1 1225.9L2125.8 1238.3L2127.7 1224.0L2129.4 1250.3L2131.7 1228.2L2133.6 1239.7L2135.4 1228.4L2137.8 1239.4L2139.4 1252.5"/>
</g></g>
<rect x="155.2" y="37.6" width="1979.8" height="1328.0" fill="none" stroke="#262626" stroke-width="2.2"/>
<rect x="909.2" y="44.6" width="1222.3" height="837.8" fill="#ffffff"/>
<text transform="translate(138.60 1351.50) scale(0.935 1.085)" font-family="'Liberation Sans', Arial, sans-serif" font-size="50" fill="#262626" text-anchor="end">0</text>
<text transform="translate(138.60 1207.30) scale(0.935 1.085)" font-family="'Liberation Sans', Arial, sans-serif" font-size="50" fill="#262626" text-anchor="end">2</text>
<text transform="translate(138.60 1064.90) scale(0.935 1.085)" font-family="'Liberation Sans', Arial, sans-serif" font-size="50" fill="#262626" text-anchor="end">4</text>
<text transform="translate(138.60 920.90) scale(0.935 1.085)" font-family="'Liberation Sans', Arial, sans-serif" font-size="50" fill="#262626" text-anchor="end">6</text>
<text transform="translate(138.60 776.40) scale(0.935 1.085)" font-family="'Liberation Sans', Arial, sans-serif" font-size="50" fill="#262626" text-anchor="end">8</text>
<text transform="translate(138.60 632.20) scale(0.935 1.085)" font-family="'Liberation Sans', Arial, sans-serif" font-size="50" fill="#262626" text-anchor="end">10</text>
<text transform="translate(138.60 489.20) scale(0.935 1.085)" font-family="'Liberation Sans', Arial, sans-serif" font-size="50" fill="#262626" text-anchor="end">12</text>
<text transform="translate(138.60 346.40) scale(0.935 1.085)" font-family="'Liberation Sans', Arial, sans-serif" font-size="50" fill="#262626" text-anchor="end">14</text>
<text transform="translate(138.60 202.20) scale(0.935 1.085)" font-family="'Liberation Sans', Arial, sans-serif" font-size="50" fill="#262626" text-anchor="end">16</text>
<text transform="translate(138.60 58.20) scale(0.935 1.085)" font-family="'Liberation Sans', Arial, sans-serif" font-size="50" fill="#262626" text-anchor="end">18</text>
<text transform="translate(202.50 1435.60) scale(0.935 1.1)" font-family="'Liberation Sans', Arial, sans-serif" font-size="50" fill="#262626" text-anchor="middle">0</text>
<text transform="translate(823.90 1435.60) scale(0.935 1.1)" font-family="'Liberation Sans', Arial, sans-serif" font-size="50" fill="#262626" text-anchor="middle">50</text>
<text transform="translate(1441.90 1435.60) scale(0.935 1.1)" font-family="'Liberation Sans', Arial, sans-serif" font-size="50" fill="#262626" text-anchor="middle">100</text>
<text transform="translate(2061.40 1435.60) scale(0.935 1.1)" font-family="'Liberation Sans', Arial, sans-serif" font-size="50" fill="#262626" text-anchor="middle">150</text>
<text transform="translate(1146.30 1511.60) scale(0.992 1.045)" font-family="'Liberation Sans', Arial, sans-serif" font-size="55" fill="#262626" text-anchor="middle">Time (ns)</text>
<text transform="translate(65.20 702.70) rotate(-90) scale(1.044 1.0)" font-family="'Liberation Sans', Arial, sans-serif" font-size="55" fill="#262626" text-anchor="middle">Current (A)</text>
<line x1="279.3" y1="76.3" x2="361.7" y2="76.3" stroke="#0072BD" stroke-width="2.1"/>
<line x1="279.3" y1="136.1" x2="361.7" y2="136.1" stroke="#D95319" stroke-width="2.1"/>
<text transform="translate(366.00 96.30)" font-family="'Liberation Sans', Arial, sans-serif" font-size="43.35" fill="#0a0a0a" text-anchor="start">Reconstructed waveform</text>
<text transform="translate(366.00 155.00)" font-family="'Liberation Sans', Arial, sans-serif" font-size="43.35" fill="#0a0a0a" text-anchor="start">Pellegrini target waveform</text>
<g stroke="#000" stroke-opacity="0.13" stroke-width="1.9" fill="none">
<line x1="1124.6" y1="59.0" x2="1124.6" y2="752.2"/>
<line x1="1482.0" y1="59.0" x2="1482.0" y2="752.2"/>
<line x1="1834.9" y1="59.0" x2="1834.9" y2="752.2"/>
<line x1="2012.4" y1="59.0" x2="2012.4" y2="752.2"/>
<line x1="1037.1" y1="360.4" x2="2100.3" y2="360.4"/>
<line x1="1037.1" y1="545.4" x2="2100.3" y2="545.4"/>
</g>
<g stroke="#1c1c1c" stroke-width="2" fill="none">
<line x1="1124.6" y1="752.2" x2="1124.6" y2="741.7"/>
<line x1="1124.6" y1="59.0" x2="1124.6" y2="69.5"/>
<line x1="1482.0" y1="752.2" x2="1482.0" y2="741.7"/>
<line x1="1482.0" y1="59.0" x2="1482.0" y2="69.5"/>
<line x1="1834.9" y1="752.2" x2="1834.9" y2="741.7"/>
<line x1="1834.9" y1="59.0" x2="1834.9" y2="69.5"/>
<line x1="2012.4" y1="752.2" x2="2012.4" y2="741.7"/>
<line x1="2012.4" y1="59.0" x2="2012.4" y2="69.5"/>
<line x1="1037.1" y1="360.4" x2="1047.6" y2="360.4"/>
<line x1="2100.3" y1="360.4" x2="2089.8" y2="360.4"/>
<line x1="1037.1" y1="545.4" x2="1047.6" y2="545.4"/>
<line x1="2100.3" y1="545.4" x2="2089.8" y2="545.4"/>
</g>
<g clip-path="url(#ci)" fill="none" stroke-width="2" stroke-linejoin="round" stroke-linecap="round">
<path stroke="#0072BD" d="M1086.2 752.8L1087.6 751.1L1089.6 748.7L1091.7 745.9L1093.7 743.2L1095.4 740.7L1096.9 738.2L1098.5 735.5L1100.1 732.6L1101.9 729.4L1103.7 726.0L1105.5 722.4L1107.5 718.7L1109.6 714.8L1111.9 710.7L1114.1 706.6L1116.1 702.7L1117.9 699.1L1119.5 695.8L1121.0 692.4L1122.5 688.8L1123.9 685.0L1125.2 681.1L1126.5 677.1L1127.8 672.8L1129.2 668.0L1130.6 662.9L1132.0 657.9L1133.2 653.5L1134.2 649.9L1134.9 646.9L1135.7 644.3L1136.4 641.8L1137.1 639.6L1137.7 637.7L1138.5 636.0L1139.6 634.3L1141.2 632.3L1143.1 630.3L1145.1 628.5L1147.1 627.5L1149.0 627.5L1150.9 628.2L1152.7 629.2L1154.5 630.1L1156.2 631.1L1157.8 632.2L1159.3 633.2L1160.9 633.7L1162.5 633.6L1164.2 633.2L1165.8 632.3L1167.3 631.1L1168.5 629.7L1169.5 628.0L1170.4 625.7L1171.6 622.6L1173.1 618.4L1174.7 613.3L1176.4 607.7L1178.0 602.3L1179.4 597.0L1180.8 591.5L1182.1 586.1L1183.4 580.9L1184.7 576.0L1186.1 571.4L1187.4 566.8L1188.7 561.7L1190.0 556.0L1191.3 549.8L1192.7 543.7L1194.0 538.2L1195.3 533.6L1196.6 529.5L1198.0 525.5L1199.4 521.1L1200.9 516.1L1202.5 510.9L1204.2 505.4L1205.8 499.8L1207.4 493.9L1209.1 487.7L1210.7 481.6L1212.2 476.3L1213.4 472.2L1214.5 468.8L1215.5 465.5L1216.5 461.4L1217.5 456.2L1218.4 450.5L1219.4 444.4L1220.5 438.6L1221.8 432.9L1223.2 427.2L1224.7 421.6L1226.1 416.3L1227.5 411.4L1228.8 406.7L1230.2 402.3L1231.7 398.1L1233.3 394.3L1234.9 390.8L1236.6 387.5L1238.6 384.2L1240.9 381.0L1243.4 377.9L1246.0 374.8L1248.4 371.7L1250.6 368.6L1252.8 365.6L1254.9 362.4L1256.7 359.1L1258.3 355.6L1259.7 352.1L1261.0 348.2L1262.3 343.8L1263.6 338.8L1264.9 333.4L1266.3 327.6L1267.9 321.5L1269.8 314.9L1271.9 307.9L1274.1 300.7L1276.3 293.6L1278.4 286.5L1280.5 279.4L1282.5 272.5L1284.6 265.8L1286.7 259.2L1288.8 252.7L1290.9 246.9L1293.0 242.1L1295.1 238.8L1297.3 236.6L1299.4 235.0L1301.3 233.7L1303.0 232.5L1304.5 231.8L1306.0 231.3L1307.5 231.2L1309.0 231.3L1310.5 231.7L1312.1 232.4L1313.9 233.7L1316.2 235.5L1318.7 237.8L1321.3 240.5L1323.6 243.5L1325.5 247.1L1327.1 251.2L1328.7 255.2L1330.6 258.8L1332.8 261.7L1335.2 264.2L1337.8 266.4L1340.4 268.5L1343.1 270.6L1345.9 272.5L1348.7 274.2L1351.5 275.5L1354.4 276.1L1357.3 276.3L1360.1 276.4L1362.7 276.9L1364.9 277.8L1366.8 278.8L1368.8 280.3L1371.0 282.5L1373.7 285.6L1376.6 289.4L1379.5 293.6L1382.2 297.8L1384.4 302.0L1386.3 306.4L1388.3 311.0L1390.5 315.9L1393.0 321.2L1395.8 326.9L1398.6 332.6L1401.7 338.2L1405.0 343.7L1408.5 349.1L1412.1 354.3L1415.6 359.1L1419.1 363.4L1422.7 367.2L1426.2 370.8L1429.5 374.4L1432.5 378.0L1435.4 381.6L1438.1 384.9L1440.7 387.8L1443.2 390.3L1445.6 392.4L1448.0 394.1L1450.4 395.3L1452.7 395.9L1455.0 395.9L1457.5 395.7L1460.2 395.3L1463.5 394.8L1467.2 394.0L1470.9 393.3L1474.1 392.6L1476.6 392.3L1478.7 392.2L1480.5 391.9L1482.3 391.1L1484.0 389.4L1485.5 387.1L1486.9 384.7L1488.4 382.6L1490.0 380.9L1491.5 379.5L1493.1 378.1L1494.5 376.5L1495.7 374.6L1496.7 372.6L1497.8 370.6L1499.1 369.1L1500.7 368.1L1502.6 367.4L1504.6 366.9L1506.8 366.5L1509.4 366.2L1512.2 366.0L1515.1 366.0L1517.5 366.2L1519.3 366.7L1520.6 367.6L1522.0 368.4L1523.6 368.8L1525.7 368.7L1528.0 368.3L1530.4 367.8L1532.8 367.3L1535.1 366.9L1537.3 366.6L1539.6 366.2L1542.0 365.8L1544.7 365.2L1547.5 364.5L1550.3 363.8L1552.8 363.5L1554.9 363.6L1556.8 364.0L1558.6 364.5L1560.4 365.0L1562.2 365.4L1563.9 365.8L1565.6 366.3L1567.3 367.3L1569.0 368.9L1570.8 371.0L1572.5 373.1L1574.2 375.0L1575.8 376.4L1577.4 377.7L1578.9 378.9L1580.4 380.3L1581.9 382.2L1583.5 384.3L1585.0 386.3L1586.5 388.0L1587.9 389.2L1589.3 390.0L1590.7 390.7L1592.6 391.1L1595.0 391.4L1597.8 391.5L1600.7 391.4L1603.4 391.1L1605.8 390.6L1608.0 389.8L1610.2 388.9L1612.6 388.4L1615.2 388.1L1617.9 388.0L1620.7 388.1L1623.3 388.4L1625.7 389.0L1628.1 389.9L1630.3 390.8L1632.5 391.8L1634.5 392.7L1636.3 393.6L1638.1 394.5L1640.1 395.6L1642.3 396.8L1644.7 398.1L1647.1 399.5L1649.3 401.0L1651.3 402.6L1653.1 404.4L1654.9 406.2L1657.0 407.9L1659.5 409.6L1662.2 411.2L1664.9 412.7L1667.7 413.7L1670.4 414.2L1673.0 414.2L1675.7 414.1L1678.5 414.0L1681.6 414.0L1684.8 414.1L1687.9 414.0L1690.7 413.7L1692.9 413.0L1694.8 412.0L1696.6 411.0L1698.4 410.2L1700.3 409.6L1702.2 409.1L1704.1 408.8L1706.0 408.7L1707.9 409.0L1709.8 409.5L1711.7 410.2L1713.7 411.0L1716.0 412.0L1718.4 413.2L1720.8 414.4L1722.9 415.6L1724.6 416.7L1726.1 417.9L1727.5 418.9L1729.0 419.7L1730.5 420.2L1731.9 420.4L1733.4 420.5L1735.2 420.2L1737.4 419.6L1739.8 418.7L1742.2 417.6L1744.4 416.3L1746.1 414.7L1747.6 412.9L1749.0 411.1L1750.5 409.4L1752.0 408.0L1753.5 406.8L1755.0 405.6L1756.6 404.1L1758.4 402.1L1760.3 399.9L1762.3 397.6L1764.3 395.6L1766.3 394.1L1768.3 392.8L1770.3 391.6L1772.0 390.3L1773.3 388.8L1774.3 387.1L1775.3 385.5L1776.6 384.2L1778.3 383.2L1780.2 382.5L1782.2 381.9L1784.2 381.4L1786.1 381.0L1788.1 380.8L1790.1 380.7L1791.9 380.8L1793.5 381.0L1795.1 381.4L1796.6 381.9L1798.4 382.6L1800.6 383.4L1803.0 384.5L1805.5 385.5L1807.6 386.5L1809.3 387.4L1810.7 388.2L1812.1 388.9L1813.7 389.5L1815.5 389.9L1817.5 390.2L1819.4 390.4L1821.4 390.3L1823.3 390.0L1825.2 389.5L1827.1 388.8L1829.0 388.0L1830.9 387.0L1832.8 385.7L1834.8 384.4L1836.7 383.4L1838.7 382.7L1840.7 382.2L1842.6 381.7L1844.4 381.1L1845.8 380.3L1847.0 379.4L1848.4 378.6L1850.5 378.0L1853.7 377.7L1857.8 377.6L1862.0 377.7L1865.8 378.0L1869.1 378.8L1872.1 379.9L1875.1 381.1L1878.1 381.9L1881.2 382.2L1884.3 382.3L1887.4 382.2L1890.4 382.2L1893.2 382.2L1895.9 382.3L1898.5 382.4L1901.1 382.6L1903.8 383.0L1906.5 383.4L1909.2 384.1L1911.8 384.9L1914.2 386.0L1916.4 387.4L1918.6 388.9L1921.0 390.3L1923.6 391.7L1926.2 393.1L1929.0 394.5L1931.7 395.6L1934.5 396.3L1937.3 396.7L1940.0 397.2L1942.5 397.9L1944.6 399.0L1946.4 400.3L1948.2 401.8L1950.1 403.3L1952.3 404.9L1954.6 406.7L1957.0 408.5L1959.3 409.9L1961.6 411.0L1963.9 411.9L1966.2 412.6L1968.5 413.0L1970.9 413.0L1973.3 412.8L1975.6 412.3L1977.7 411.7L1979.3 411.0L1980.5 410.0L1981.9 409.1L1983.9 408.4L1986.7 408.1L1990.1 407.9L1993.9 407.9L1997.7 407.9L2001.9 408.0L2006.4 408.1L2010.8 408.2L2014.5 407.9L2017.4 407.2L2019.7 406.2L2021.7 405.1L2023.7 404.1L2025.7 403.2L2027.6 402.2L2029.4 401.3L2031.4 400.7L2033.6 400.3L2035.9 400.1L2038.3 400.1L2040.6 400.3L2042.9 400.8L2045.2 401.7L2047.5 402.6L2049.8 403.3L2052.0 403.9L2054.2 404.3L2056.5 404.7L2059.0 404.8L2061.8 404.6L2064.9 404.1L2068.1 403.5L2071.2 403.3L2074.3 403.4L2077.5 403.7L2080.6 404.1L2083.5 404.8L2086.1 405.7L2088.4 406.9L2090.6 408.2L2092.7 409.4L2094.9 410.5L2097.1 411.6L2099.1 412.6L2100.4 413.3"/>
<path stroke="#D95319" d="M1037.1 739.0L1040.7 739.1L1045.9 739.2L1051.5 739.2L1056.3 739.0L1059.9 738.4L1063.0 737.6L1065.9 736.6L1069.1 735.8L1072.7 735.1L1076.5 734.3L1080.3 733.7L1084.1 733.2L1088.0 732.9L1092.1 732.9L1095.9 732.9L1099.0 733.0L1101.2 733.2L1102.7 733.5L1104.0 733.9L1105.4 734.3L1106.9 734.9L1108.5 735.5L1110.0 736.1L1111.8 736.4L1113.9 736.4L1116.2 736.1L1118.4 735.5L1120.4 734.7L1122.0 733.5L1123.3 732.1L1124.5 730.3L1125.7 728.3L1127.0 726.1L1128.3 723.5L1129.7 720.7L1131.0 717.6L1132.3 714.0L1133.6 710.1L1135.0 705.9L1136.4 701.6L1138.0 697.3L1139.6 692.8L1141.3 688.2L1142.8 683.4L1144.2 678.1L1145.5 672.5L1146.8 667.0L1148.1 662.1L1149.4 658.1L1150.8 654.7L1152.2 651.5L1153.5 648.2L1154.8 644.8L1156.1 641.5L1157.4 638.0L1158.8 634.3L1160.3 630.2L1162.0 625.9L1163.7 621.5L1165.2 617.2L1166.6 613.0L1167.9 609.0L1169.2 604.8L1170.5 600.2L1171.9 595.1L1173.3 589.5L1174.6 584.0L1175.9 578.8L1177.1 574.3L1178.2 570.1L1179.2 566.0L1180.2 561.7L1181.1 557.0L1181.8 552.1L1182.6 547.2L1183.4 542.5L1184.4 538.0L1185.4 533.5L1186.5 529.2L1187.6 525.4L1188.7 522.0L1189.8 519.0L1190.9 516.3L1191.9 513.7L1192.7 511.2L1193.4 508.9L1194.2 506.8L1195.1 505.1L1196.3 503.8L1197.6 502.8L1199.0 502.1L1200.4 501.5L1201.7 501.1L1203.0 500.8L1204.4 500.8L1205.8 500.9L1207.4 501.3L1209.0 502.0L1210.7 502.6L1212.2 503.0L1213.6 503.1L1214.9 503.0L1216.2 502.7L1217.5 501.9L1218.8 500.6L1220.2 498.9L1221.6 496.9L1222.9 494.5L1224.2 491.7L1225.6 488.6L1226.9 485.2L1228.2 481.6L1229.4 478.1L1230.6 474.7L1231.9 470.6L1233.5 465.6L1235.5 459.2L1237.9 451.8L1240.3 443.8L1242.8 435.8L1245.3 427.7L1247.8 419.3L1250.3 410.8L1252.6 402.3L1254.6 393.9L1256.3 385.6L1257.9 377.3L1259.5 368.9L1261.0 360.8L1262.4 352.8L1263.7 344.6L1265.1 335.4L1266.5 325.4L1267.8 314.8L1269.2 303.4L1270.7 290.8L1272.5 275.9L1274.4 259.1L1276.2 242.9L1277.7 229.5L1278.6 220.3L1279.1 213.7L1279.6 208.1L1280.4 201.7L1281.6 194.1L1283.0 186.2L1284.5 178.3L1286.0 171.0L1287.5 164.0L1289.2 157.3L1290.8 151.2L1292.4 145.9L1294.0 141.7L1295.5 138.4L1297.1 135.7L1298.6 133.4L1300.0 131.5L1301.4 130.0L1302.9 129.1L1304.7 128.6L1307.1 128.7L1309.9 129.2L1312.7 130.2L1315.3 131.4L1317.6 132.9L1319.8 134.7L1321.9 136.8L1323.6 138.9L1324.9 141.1L1325.9 143.4L1326.7 145.9L1327.8 148.7L1329.1 151.8L1330.5 155.2L1332.0 158.8L1333.4 162.6L1334.8 166.5L1336.3 170.5L1337.7 174.7L1339.0 179.4L1340.1 184.6L1341.0 190.2L1342.0 196.0L1343.1 201.7L1344.4 207.5L1345.9 213.4L1347.4 219.0L1348.7 224.0L1349.6 228.1L1350.4 231.6L1351.1 234.7L1352.1 237.9L1353.5 241.2L1355.2 244.4L1356.9 247.5L1358.5 250.4L1359.9 253.2L1361.2 255.8L1362.5 258.2L1364.0 260.2L1365.6 261.5L1367.4 262.3L1369.2 263.1L1371.0 264.4L1372.8 266.4L1374.6 268.8L1376.3 271.4L1378.0 274.1L1379.5 276.7L1381.0 279.3L1382.4 282.1L1383.6 285.3L1384.6 289.2L1385.5 293.6L1386.3 298.0L1387.2 302.0L1388.2 305.5L1389.2 308.7L1390.4 311.7L1391.9 314.5L1393.8 317.3L1396.0 320.1L1398.2 322.4L1400.3 323.7L1402.1 323.9L1403.8 323.1L1405.5 321.8L1407.2 320.1L1408.9 317.9L1410.5 315.1L1412.3 312.3L1414.2 309.8L1416.5 307.7L1419.0 305.7L1421.6 304.2L1424.0 303.4L1426.2 303.5L1428.3 304.2L1430.4 305.5L1432.3 307.0L1434.1 308.9L1435.8 311.2L1437.5 313.7L1439.3 315.9L1441.3 317.9L1443.3 319.8L1445.5 321.5L1447.7 322.9L1450.0 323.8L1452.4 324.3L1454.8 324.8L1457.4 325.7L1460.2 327.0L1463.1 328.6L1466.0 330.4L1468.6 332.6L1470.7 335.2L1472.5 338.3L1474.2 341.4L1476.1 344.3L1478.3 347.0L1480.6 349.6L1483.0 352.1L1485.3 354.3L1487.6 356.3L1489.9 358.1L1492.2 359.7L1494.5 361.2L1496.8 362.6L1499.2 363.8L1501.5 364.8L1503.7 365.5L1505.7 365.8L1507.7 365.8L1509.6 365.5L1511.4 365.0L1513.2 364.4L1515.0 363.7L1516.7 362.7L1518.3 361.2L1519.7 359.1L1521.0 356.5L1522.2 353.7L1523.6 351.2L1525.2 349.1L1527.0 347.2L1528.8 345.2L1530.5 342.8L1531.9 339.7L1533.3 336.2L1534.5 332.6L1535.9 329.0L1537.4 325.6L1538.9 322.2L1540.5 318.7L1542.0 315.2L1543.5 311.5L1545.1 307.6L1546.7 303.8L1548.2 300.6L1549.8 298.0L1551.4 295.8L1552.9 293.9L1554.3 292.2L1555.5 290.7L1556.5 289.4L1557.6 288.3L1558.9 287.6L1560.6 287.0L1562.6 286.7L1564.6 286.8L1566.6 287.6L1568.6 289.5L1570.6 292.2L1572.5 295.1L1574.2 297.6L1575.6 299.5L1576.7 301.1L1577.7 302.6L1578.8 304.5L1579.9 306.7L1580.9 309.2L1582.0 311.7L1583.4 314.4L1585.1 317.2L1587.0 320.0L1589.0 323.0L1591.1 325.9L1593.3 328.7L1595.7 331.5L1598.1 334.3L1600.3 337.4L1602.3 340.9L1604.2 344.7L1606.1 348.6L1608.0 352.0L1610.0 355.1L1611.9 357.9L1613.9 360.5L1615.6 362.7L1617.0 364.5L1618.2 365.9L1619.4 367.0L1621.0 368.1L1623.2 369.1L1625.7 370.0L1628.4 370.8L1630.9 371.6L1633.3 372.3L1635.6 372.9L1637.9 373.6L1640.1 374.7L1642.1 376.1L1643.9 377.8L1645.8 379.7L1647.8 381.9L1650.0 384.6L1652.4 387.9L1654.8 390.9L1657.0 393.0L1658.9 394.0L1660.7 394.3L1662.5 394.1L1664.7 393.7L1667.4 393.0L1670.5 391.8L1673.7 390.6L1676.9 389.5L1680.0 388.8L1683.2 388.2L1686.3 387.5L1689.2 386.5L1691.8 385.1L1694.1 383.4L1696.3 381.5L1698.4 379.6L1700.4 377.4L1702.3 375.0L1704.1 372.8L1706.0 371.1L1707.9 370.0L1709.8 369.4L1711.8 369.2L1713.7 369.1L1715.6 369.2L1717.6 369.5L1719.5 370.1L1721.4 371.1L1723.2 372.7L1725.0 374.7L1726.9 376.9L1729.0 378.8L1731.5 380.5L1734.2 382.2L1737.0 383.7L1739.8 384.9L1742.5 385.8L1745.2 386.5L1747.8 387.0L1750.5 387.2L1753.2 387.2L1755.9 386.9L1758.6 386.4L1761.2 385.7L1763.6 384.6L1766.0 383.3L1768.2 381.8L1770.4 380.3L1772.4 378.8L1774.2 377.3L1776.0 375.7L1778.1 374.2L1780.6 372.7L1783.3 371.1L1786.1 369.6L1788.8 368.1L1791.3 366.7L1793.7 365.4L1796.1 364.0L1798.4 362.7L1800.8 361.3L1803.2 360.0L1805.5 358.6L1807.6 357.3L1809.3 355.9L1810.7 354.6L1812.0 353.2L1813.7 352.0L1815.8 350.9L1818.1 349.9L1820.5 349.0L1822.9 348.1L1825.1 347.3L1827.3 346.6L1829.6 346.0L1832.1 345.5L1835.0 345.2L1838.1 345.0L1841.3 345.0L1844.4 345.1L1847.5 345.2L1850.6 345.5L1853.7 345.9L1856.6 346.6L1859.5 347.6L1862.4 348.9L1865.1 350.4L1867.4 352.0L1869.3 353.8L1870.7 355.8L1872.1 357.7L1873.5 359.6L1875.0 361.2L1876.5 362.6L1878.1 364.1L1879.6 365.8L1881.1 367.9L1882.7 370.3L1884.3 372.7L1885.8 375.0L1887.3 377.0L1888.9 378.9L1890.4 380.7L1891.9 382.6L1893.3 384.6L1894.6 386.8L1895.9 388.8L1897.3 390.3L1898.9 391.3L1900.6 392.0L1902.4 392.3L1904.2 392.6L1906.0 392.7L1908.0 392.7L1909.9 392.5L1911.8 392.1L1913.7 391.4L1915.6 390.5L1917.6 389.6L1919.5 388.8L1921.3 388.2L1923.0 387.6L1924.9 387.2L1927.1 386.9L1929.9 386.9L1933.1 387.1L1936.3 387.3L1939.4 387.2L1942.3 386.8L1945.0 386.1L1947.7 385.3L1950.1 384.2L1952.2 382.9L1954.1 381.2L1955.9 379.6L1957.8 378.0L1959.8 376.6L1961.8 375.3L1963.7 374.0L1965.5 372.7L1967.1 371.2L1968.6 369.7L1970.0 368.3L1971.6 367.3L1973.3 366.7L1975.2 366.4L1977.1 366.4L1979.3 366.5L1981.8 366.8L1984.7 367.4L1987.5 368.1L1990.0 369.1L1992.1 370.4L1993.8 371.9L1995.6 373.5L1997.7 375.0L2000.2 376.4L2002.9 377.8L2005.7 379.1L2008.4 380.3L2011.0 381.2L2013.7 381.9L2016.3 382.5L2019.1 383.4L2022.1 384.6L2025.2 386.0L2028.4 387.3L2031.4 388.4L2034.2 389.2L2036.9 389.8L2039.6 390.3L2042.1 390.6L2044.5 390.8L2046.8 390.8L2049.0 390.7L2051.3 390.3L2053.7 389.7L2056.1 388.9L2058.4 387.8L2060.5 386.5L2062.2 384.8L2063.7 382.8L2065.1 380.7L2066.6 378.8L2068.1 377.2L2069.7 375.7L2071.3 374.2L2072.8 372.7L2074.3 371.0L2075.9 369.1L2077.4 367.3L2078.9 365.8L2080.4 364.5L2081.8 363.4L2083.4 362.5L2085.0 361.9L2086.8 361.7L2088.8 361.8L2090.7 362.1L2092.7 362.4L2094.8 362.7L2097.0 363.0L2099.0 363.3L2100.4 363.5"/>
</g>
<rect x="1037.1" y="59.0" width="1063.2000000000003" height="693.2" fill="none" stroke="#1c1c1c" stroke-width="2"/>
<text transform="translate(1124.00 807.60) scale(1.0 1.045)" font-family="'Liberation Sans', Arial, sans-serif" font-size="41" fill="#262626" text-anchor="middle">0</text>
<text transform="translate(1301.70 807.60) scale(1.0 1.045)" font-family="'Liberation Sans', Arial, sans-serif" font-size="41" fill="#262626" text-anchor="middle">1</text>
<text transform="translate(1479.40 807.60) scale(1.0 1.045)" font-family="'Liberation Sans', Arial, sans-serif" font-size="41" fill="#262626" text-anchor="middle">2</text>
<text transform="translate(1657.10 807.60) scale(1.0 1.045)" font-family="'Liberation Sans', Arial, sans-serif" font-size="41" fill="#262626" text-anchor="middle">3</text>
<text transform="translate(1834.80 807.60) scale(1.0 1.045)" font-family="'Liberation Sans', Arial, sans-serif" font-size="41" fill="#262626" text-anchor="middle">4</text>
<text transform="translate(2012.50 807.60) scale(1.0 1.045)" font-family="'Liberation Sans', Arial, sans-serif" font-size="41" fill="#262626" text-anchor="middle">5</text>
<text transform="translate(1024.20 187.10) scale(1.0 1.03)" font-family="'Liberation Sans', Arial, sans-serif" font-size="41" fill="#262626" text-anchor="end">15</text>
<text transform="translate(1024.20 376.20) scale(1.0 1.03)" font-family="'Liberation Sans', Arial, sans-serif" font-size="41" fill="#262626" text-anchor="end">10</text>
<text transform="translate(1024.20 563.80) scale(1.0 1.03)" font-family="'Liberation Sans', Arial, sans-serif" font-size="41" fill="#262626" text-anchor="end">5</text>
<text transform="translate(1024.20 750.60) scale(1.0 1.03)" font-family="'Liberation Sans', Arial, sans-serif" font-size="41" fill="#262626" text-anchor="end">0</text>
<text transform="translate(1569.70 865.70) scale(1.035 1.0)" font-family="'Liberation Sans', Arial, sans-serif" font-size="45" fill="#262626" text-anchor="middle">Time (ns)</text>
<text transform="translate(961.60 406.40) rotate(-90) scale(0.986 1.09)" font-family="'Liberation Sans', Arial, sans-serif" font-size="45" fill="#262626" text-anchor="middle">Current (A)</text>
<rect x="185.9" y="149.2" width="61.099999999999994" height="1272.3999999999999" fill="none" stroke="#ED1C24" stroke-width="6.3"/>
<polygon points="254.5,518.85 925.6,402.75 925.6,408.25 254.5,524.35" fill="#ED1C24"/>
</svg>
</body></html>
